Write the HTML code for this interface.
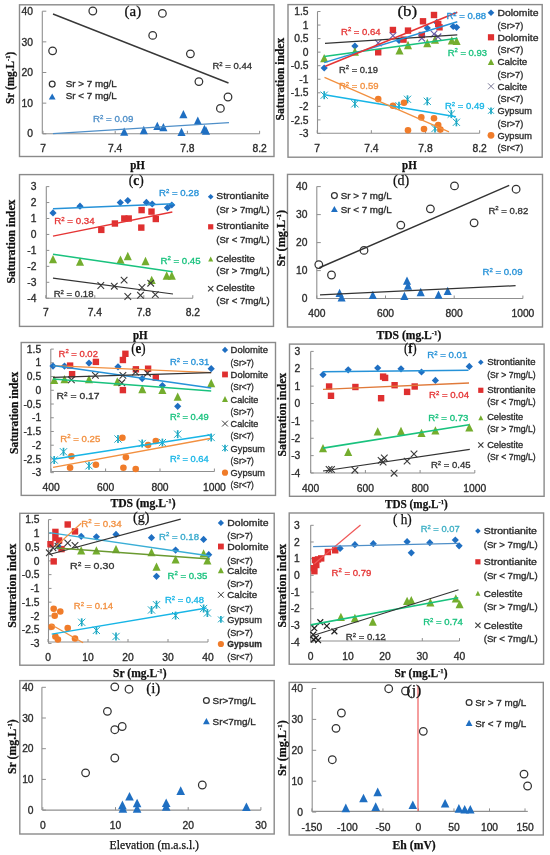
<!DOCTYPE html>
<html><head><meta charset="utf-8"><title>Figure</title>
<style>html,body{margin:0;padding:0;background:#fff;}svg{display:block;}</style></head>
<body><svg width="550" height="855" viewBox="0 0 550 855">
<rect width="550" height="855" fill="#fff"/>
<rect x="19.5" y="4.8" width="254.5" height="151.7" fill="none" stroke="#8a8a8a" stroke-width="1.4"/>
<line x1="42.3" y1="11.2" x2="42.3" y2="133.8" stroke="#8f8f8f" stroke-width="1.1"/>
<line x1="42.3" y1="11.2" x2="46.3" y2="11.2" stroke="#8f8f8f" stroke-width="1"/>
<line x1="42.3" y1="41.85" x2="46.3" y2="41.85" stroke="#8f8f8f" stroke-width="1"/>
<line x1="42.3" y1="72.5" x2="46.3" y2="72.5" stroke="#8f8f8f" stroke-width="1"/>
<line x1="42.3" y1="103.15" x2="46.3" y2="103.15" stroke="#8f8f8f" stroke-width="1"/>
<line x1="42.3" y1="133.8" x2="46.3" y2="133.8" stroke="#8f8f8f" stroke-width="1"/>
<line x1="43" y1="133.8" x2="259.6" y2="133.8" stroke="#8f8f8f" stroke-width="1.1"/>
<line x1="43" y1="133.8" x2="43" y2="130.8" stroke="#8f8f8f" stroke-width="1"/>
<line x1="115.2" y1="133.8" x2="115.2" y2="130.8" stroke="#8f8f8f" stroke-width="1"/>
<line x1="187.4" y1="133.8" x2="187.4" y2="130.8" stroke="#8f8f8f" stroke-width="1"/>
<line x1="259.6" y1="133.8" x2="259.6" y2="130.8" stroke="#8f8f8f" stroke-width="1"/>
<text x="33" y="14.86" font-size="10.3" font-family="'Liberation Sans', Arial, sans-serif" fill="#2b2b2b" text-anchor="end" stroke="#2b2b2b" stroke-width="0.33">40</text>
<text x="33" y="45.51" font-size="10.3" font-family="'Liberation Sans', Arial, sans-serif" fill="#2b2b2b" text-anchor="end" stroke="#2b2b2b" stroke-width="0.33">30</text>
<text x="33" y="76.16" font-size="10.3" font-family="'Liberation Sans', Arial, sans-serif" fill="#2b2b2b" text-anchor="end" stroke="#2b2b2b" stroke-width="0.33">20</text>
<text x="33" y="106.81" font-size="10.3" font-family="'Liberation Sans', Arial, sans-serif" fill="#2b2b2b" text-anchor="end" stroke="#2b2b2b" stroke-width="0.33">10</text>
<text x="33" y="137.46" font-size="10.3" font-family="'Liberation Sans', Arial, sans-serif" fill="#2b2b2b" text-anchor="end" stroke="#2b2b2b" stroke-width="0.33">0</text>
<text x="43" y="152.46" font-size="10.3" font-family="'Liberation Sans', Arial, sans-serif" fill="#2b2b2b" text-anchor="middle" stroke="#2b2b2b" stroke-width="0.33">7</text>
<text x="115.2" y="152.46" font-size="10.3" font-family="'Liberation Sans', Arial, sans-serif" fill="#2b2b2b" text-anchor="middle" stroke="#2b2b2b" stroke-width="0.33">7.4</text>
<text x="187.4" y="152.46" font-size="10.3" font-family="'Liberation Sans', Arial, sans-serif" fill="#2b2b2b" text-anchor="middle" stroke="#2b2b2b" stroke-width="0.33">7.8</text>
<text x="259.6" y="152.46" font-size="10.3" font-family="'Liberation Sans', Arial, sans-serif" fill="#2b2b2b" text-anchor="middle" stroke="#2b2b2b" stroke-width="0.33">8.2</text>
<circle cx="52.6" cy="50.8" r="3.8" fill="#fff" stroke="#333" stroke-width="1.25"/>
<circle cx="92.8" cy="11" r="3.8" fill="#fff" stroke="#333" stroke-width="1.25"/>
<circle cx="162.4" cy="13.4" r="3.8" fill="#fff" stroke="#333" stroke-width="1.25"/>
<circle cx="152.7" cy="35.4" r="3.8" fill="#fff" stroke="#333" stroke-width="1.25"/>
<circle cx="190.4" cy="53.8" r="3.8" fill="#fff" stroke="#333" stroke-width="1.25"/>
<circle cx="198.9" cy="81.6" r="3.8" fill="#fff" stroke="#333" stroke-width="1.25"/>
<circle cx="228" cy="97" r="3.8" fill="#fff" stroke="#333" stroke-width="1.25"/>
<circle cx="220.4" cy="108.4" r="3.8" fill="#fff" stroke="#333" stroke-width="1.25"/>
<path d="M124.2 127.43L128.25 135.77L120.15 135.77Z" fill="#1f6fc2"/>
<path d="M143.8 125.83L147.85 134.17L139.75 134.17Z" fill="#1f6fc2"/>
<path d="M157.3 121.73L161.35 130.07L153.25 130.07Z" fill="#1f6fc2"/>
<path d="M163.4 123.03L167.45 131.37L159.35 131.37Z" fill="#1f6fc2"/>
<path d="M183.4 110.03L187.45 118.37L179.35 118.37Z" fill="#1f6fc2"/>
<path d="M181.5 127.63L185.55 135.97L177.45 135.97Z" fill="#1f6fc2"/>
<path d="M197.8 116.43L201.85 124.77L193.75 124.77Z" fill="#1f6fc2"/>
<path d="M204.4 124.83L208.45 133.17L200.35 133.17Z" fill="#1f6fc2"/>
<path d="M206 126.33L210.05 134.67L201.95 134.67Z" fill="#1f6fc2"/>
<line x1="53" y1="14" x2="228.5" y2="83" stroke="#383838" stroke-width="1.35"/>
<line x1="53" y1="133.6" x2="229" y2="122.6" stroke="#4f8fc8" stroke-width="1.2"/>
<circle cx="52.2" cy="84.1" r="2.9" fill="#fff" stroke="#333" stroke-width="1.25"/>
<text x="65.8" y="86.78" font-size="9.8" font-family="'Liberation Sans', Arial, sans-serif" fill="#2b2b2b" text-anchor="start" textLength="51" lengthAdjust="spacingAndGlyphs" stroke="#2b2b2b" stroke-width="0.33">Sr &gt; 7 mg/L</text>
<path d="M52.2 93.4L55.6 99.6L48.8 99.6Z" fill="#1f6fc2"/>
<text x="65.8" y="99.18" font-size="9.8" font-family="'Liberation Sans', Arial, sans-serif" fill="#2b2b2b" text-anchor="start" textLength="51" lengthAdjust="spacingAndGlyphs" stroke="#2b2b2b" stroke-width="0.33">Sr &lt; 7 mg/L</text>
<text x="212.5" y="69.06" font-size="9.6" font-family="'Liberation Sans', Arial, sans-serif" fill="#333" text-anchor="start" textLength="39.5" lengthAdjust="spacingAndGlyphs" stroke="#333" stroke-width="0.33">R<tspan font-size="6" dy="-3.4">2</tspan><tspan dy="3.4"> = 0.44</tspan></text>
<text x="93" y="122.16" font-size="9.6" font-family="'Liberation Sans', Arial, sans-serif" fill="#4f8fc8" text-anchor="start" textLength="40.3" lengthAdjust="spacingAndGlyphs" stroke="#4f8fc8" stroke-width="0.33">R<tspan font-size="6" dy="-3.4">2</tspan><tspan dy="3.4"> = 0.09</tspan></text>
<text x="124.6" y="16.2" font-size="15" font-family="'Liberation Serif', 'Times New Roman', serif" fill="#111" text-anchor="start" textLength="16.6" lengthAdjust="spacingAndGlyphs" stroke="#111" stroke-width="0.25">(a)</text>
<text x="130.2" y="169" font-size="12" font-family="'Liberation Serif', 'Times New Roman', serif" fill="#111" text-anchor="start" font-weight="bold" textLength="14.7" lengthAdjust="spacingAndGlyphs" stroke="#111" stroke-width="0.25">pH</text>
<text transform="translate(14.4 77.85) rotate(-90)" font-size="12" font-family="'Liberation Serif', 'Times New Roman', serif" font-weight="bold" fill="#111" stroke="#111" stroke-width="0.25" text-anchor="middle" textLength="52.1" lengthAdjust="spacingAndGlyphs">Sr (mg.L<tspan font-size="7" dy="-4">-1</tspan><tspan dy="4">)</tspan></text>
<rect x="288" y="4.6" width="254.2" height="152.6" fill="none" stroke="#8a8a8a" stroke-width="1.4"/>
<line x1="317.5" y1="11.5" x2="317.5" y2="133.45" stroke="#8f8f8f" stroke-width="1.1"/>
<line x1="317.5" y1="11.5" x2="320.5" y2="11.5" stroke="#8f8f8f" stroke-width="1"/>
<line x1="317.5" y1="25.05" x2="320.5" y2="25.05" stroke="#8f8f8f" stroke-width="1"/>
<line x1="317.5" y1="38.6" x2="320.5" y2="38.6" stroke="#8f8f8f" stroke-width="1"/>
<line x1="317.5" y1="52.15" x2="320.5" y2="52.15" stroke="#8f8f8f" stroke-width="1"/>
<line x1="317.5" y1="65.7" x2="320.5" y2="65.7" stroke="#8f8f8f" stroke-width="1"/>
<line x1="317.5" y1="79.25" x2="320.5" y2="79.25" stroke="#8f8f8f" stroke-width="1"/>
<line x1="317.5" y1="92.8" x2="320.5" y2="92.8" stroke="#8f8f8f" stroke-width="1"/>
<line x1="317.5" y1="106.35" x2="320.5" y2="106.35" stroke="#8f8f8f" stroke-width="1"/>
<line x1="317.5" y1="119.9" x2="320.5" y2="119.9" stroke="#8f8f8f" stroke-width="1"/>
<line x1="317.5" y1="133.45" x2="320.5" y2="133.45" stroke="#8f8f8f" stroke-width="1"/>
<line x1="317.2" y1="133.2" x2="479.65" y2="133.2" stroke="#8f8f8f" stroke-width="1.1"/>
<line x1="317.2" y1="133.2" x2="317.2" y2="130.2" stroke="#8f8f8f" stroke-width="1"/>
<line x1="371.35" y1="133.2" x2="371.35" y2="130.2" stroke="#8f8f8f" stroke-width="1"/>
<line x1="425.5" y1="133.2" x2="425.5" y2="130.2" stroke="#8f8f8f" stroke-width="1"/>
<line x1="479.65" y1="133.2" x2="479.65" y2="130.2" stroke="#8f8f8f" stroke-width="1"/>
<text x="308.5" y="15.16" font-size="10.3" font-family="'Liberation Sans', Arial, sans-serif" fill="#2b2b2b" text-anchor="end" stroke="#2b2b2b" stroke-width="0.33">1.5</text>
<text x="308.5" y="28.71" font-size="10.3" font-family="'Liberation Sans', Arial, sans-serif" fill="#2b2b2b" text-anchor="end" stroke="#2b2b2b" stroke-width="0.33">1</text>
<text x="308.5" y="42.26" font-size="10.3" font-family="'Liberation Sans', Arial, sans-serif" fill="#2b2b2b" text-anchor="end" stroke="#2b2b2b" stroke-width="0.33">0.5</text>
<text x="308.5" y="55.81" font-size="10.3" font-family="'Liberation Sans', Arial, sans-serif" fill="#2b2b2b" text-anchor="end" stroke="#2b2b2b" stroke-width="0.33">0</text>
<text x="308.5" y="69.36" font-size="10.3" font-family="'Liberation Sans', Arial, sans-serif" fill="#2b2b2b" text-anchor="end" stroke="#2b2b2b" stroke-width="0.33">-0.5</text>
<text x="308.5" y="82.91" font-size="10.3" font-family="'Liberation Sans', Arial, sans-serif" fill="#2b2b2b" text-anchor="end" stroke="#2b2b2b" stroke-width="0.33">-1</text>
<text x="308.5" y="96.46" font-size="10.3" font-family="'Liberation Sans', Arial, sans-serif" fill="#2b2b2b" text-anchor="end" stroke="#2b2b2b" stroke-width="0.33">-1.5</text>
<text x="308.5" y="110.01" font-size="10.3" font-family="'Liberation Sans', Arial, sans-serif" fill="#2b2b2b" text-anchor="end" stroke="#2b2b2b" stroke-width="0.33">-2</text>
<text x="308.5" y="123.56" font-size="10.3" font-family="'Liberation Sans', Arial, sans-serif" fill="#2b2b2b" text-anchor="end" stroke="#2b2b2b" stroke-width="0.33">-2.5</text>
<text x="308.5" y="137.11" font-size="10.3" font-family="'Liberation Sans', Arial, sans-serif" fill="#2b2b2b" text-anchor="end" stroke="#2b2b2b" stroke-width="0.33">-3</text>
<text x="317.2" y="152.16" font-size="10.3" font-family="'Liberation Sans', Arial, sans-serif" fill="#2b2b2b" text-anchor="middle" stroke="#2b2b2b" stroke-width="0.33">7</text>
<text x="371.35" y="152.16" font-size="10.3" font-family="'Liberation Sans', Arial, sans-serif" fill="#2b2b2b" text-anchor="middle" stroke="#2b2b2b" stroke-width="0.33">7.4</text>
<text x="425.5" y="152.16" font-size="10.3" font-family="'Liberation Sans', Arial, sans-serif" fill="#2b2b2b" text-anchor="middle" stroke="#2b2b2b" stroke-width="0.33">7.8</text>
<text x="479.65" y="152.16" font-size="10.3" font-family="'Liberation Sans', Arial, sans-serif" fill="#2b2b2b" text-anchor="middle" stroke="#2b2b2b" stroke-width="0.33">8.2</text>
<path d="M324.2 64.4L327.8 68L324.2 71.6L320.6 68Z" fill="#1f6fc2"/>
<path d="M354.9 42.5L358.5 46.1L354.9 49.7L351.3 46.1Z" fill="#1f6fc2"/>
<path d="M399 36.9L402.6 40.5L399 44.1L395.4 40.5Z" fill="#1f6fc2"/>
<path d="M427.3 24.5L430.9 28.1L427.3 31.7L423.7 28.1Z" fill="#1f6fc2"/>
<path d="M436.8 18.8L440.4 22.4L436.8 26L433.2 22.4Z" fill="#1f6fc2"/>
<path d="M453.2 22.9L456.8 26.5L453.2 30.1L449.6 26.5Z" fill="#1f6fc2"/>
<path d="M456.6 23.7L460.2 27.3L456.6 30.9L453 27.3Z" fill="#1f6fc2"/>
<rect x="375" y="49.1" width="6.4" height="6.4" fill="#df3030"/>
<rect x="389.7" y="26.8" width="6.4" height="6.4" fill="#df3030"/>
<rect x="400.3" y="36.4" width="6.4" height="6.4" fill="#df3030"/>
<rect x="404.8" y="27.4" width="6.4" height="6.4" fill="#df3030"/>
<rect x="419.8" y="18.1" width="6.4" height="6.4" fill="#df3030"/>
<rect x="430.8" y="11.8" width="6.4" height="6.4" fill="#df3030"/>
<rect x="435" y="20.8" width="6.4" height="6.4" fill="#df3030"/>
<rect x="436.3" y="24.1" width="6.4" height="6.4" fill="#df3030"/>
<rect x="418.6" y="31.8" width="6.4" height="6.4" fill="#df3030"/>
<path d="M324.2 54.03L328.25 62.37L320.15 62.37Z" fill="#74ad2e"/>
<path d="M354.9 47.33L358.95 55.67L350.85 55.67Z" fill="#74ad2e"/>
<path d="M399.5 46.13L403.55 54.47L395.45 54.47Z" fill="#74ad2e"/>
<path d="M408 40.83L412.05 49.17L403.95 49.17Z" fill="#74ad2e"/>
<path d="M427.3 38.83L431.35 47.17L423.25 47.17Z" fill="#74ad2e"/>
<path d="M435 35.33L439.05 43.67L430.95 43.67Z" fill="#74ad2e"/>
<path d="M451.8 36.23L455.85 44.57L447.75 44.57Z" fill="#74ad2e"/>
<path d="M456.6 36.73L460.65 45.07L452.55 45.07Z" fill="#74ad2e"/>
<path d="M374.9 39.7L381.5 46.3M381.5 39.7L374.9 46.3" stroke="#6a5ca8" stroke-width="1.1" fill="none"/>
<path d="M389.7 32.3L396.3 38.9M396.3 32.3L389.7 38.9" stroke="#6a5ca8" stroke-width="1.1" fill="none"/>
<path d="M430.7 30.7L437.3 37.3M437.3 30.7L430.7 37.3" stroke="#6a5ca8" stroke-width="1.1" fill="none"/>
<path d="M434.7 33.5L441.3 40.1M441.3 33.5L434.7 40.1" stroke="#6a5ca8" stroke-width="1.1" fill="none"/>
<path d="M418.5 34.9L425.1 41.5M425.1 34.9L418.5 41.5" stroke="#6a5ca8" stroke-width="1.1" fill="none"/>
<path d="M320.6 91.6L327.8 98.8M327.8 91.6L320.6 98.8" stroke="#1fa9c4" stroke-width="1.0" fill="none"/><path d="M324.2 91.2L324.2 99.2" stroke="#1fa9c4" stroke-width="1.7"/>
<path d="M351.3 100.2L358.5 107.4M358.5 100.2L351.3 107.4" stroke="#1fa9c4" stroke-width="1.0" fill="none"/><path d="M354.9 99.8L354.9 107.8" stroke="#1fa9c4" stroke-width="1.7"/>
<path d="M395.4 102.2L402.6 109.4M402.6 102.2L395.4 109.4" stroke="#1fa9c4" stroke-width="1.0" fill="none"/><path d="M399 101.8L399 109.8" stroke="#1fa9c4" stroke-width="1.7"/>
<path d="M403.9 95.7L411.1 102.9M411.1 95.7L403.9 102.9" stroke="#1fa9c4" stroke-width="1.0" fill="none"/><path d="M407.5 95.3L407.5 103.3" stroke="#1fa9c4" stroke-width="1.7"/>
<path d="M423.7 97.7L430.9 104.9M430.9 97.7L423.7 104.9" stroke="#1fa9c4" stroke-width="1.0" fill="none"/><path d="M427.3 97.3L427.3 105.3" stroke="#1fa9c4" stroke-width="1.7"/>
<path d="M447.7 110.5L454.9 117.7M454.9 110.5L447.7 117.7" stroke="#1fa9c4" stroke-width="1.0" fill="none"/><path d="M451.3 110.1L451.3 118.1" stroke="#1fa9c4" stroke-width="1.7"/>
<path d="M452.8 118.7L460 125.9M460 118.7L452.8 125.9" stroke="#1fa9c4" stroke-width="1.0" fill="none"/><path d="M456.4 118.3L456.4 126.3" stroke="#1fa9c4" stroke-width="1.7"/>
<path d="M431.4 124.9L438.6 132.1M438.6 124.9L431.4 132.1" stroke="#1fa9c4" stroke-width="1.0" fill="none"/><path d="M435 124.5L435 132.5" stroke="#1fa9c4" stroke-width="1.7"/>
<circle cx="378.2" cy="99.1" r="3.3" fill="#f07c2a"/>
<circle cx="393" cy="105.8" r="3.3" fill="#f07c2a"/>
<circle cx="404" cy="102.8" r="3.3" fill="#f07c2a"/>
<circle cx="408" cy="130.2" r="3.3" fill="#f07c2a"/>
<circle cx="421.3" cy="117.4" r="3.3" fill="#f07c2a"/>
<circle cx="424" cy="129" r="3.3" fill="#f07c2a"/>
<circle cx="434" cy="118.2" r="3.3" fill="#f07c2a"/>
<circle cx="438.2" cy="125" r="3.3" fill="#f07c2a"/>
<circle cx="440.4" cy="129.6" r="3.3" fill="#f07c2a"/>
<line x1="324.5" y1="94.7" x2="456" y2="116.8" stroke="#17b5e6" stroke-width="1.6"/>
<line x1="324.5" y1="77.3" x2="449" y2="131.8" stroke="#f29040" stroke-width="1.3"/>
<line x1="325" y1="43.4" x2="457.3" y2="34.9" stroke="#333333" stroke-width="1.2"/>
<line x1="324.2" y1="56.5" x2="457.3" y2="38.2" stroke="#19c27e" stroke-width="1.6"/>
<line x1="324.2" y1="62.6" x2="457.3" y2="21.8" stroke="#2692d8" stroke-width="1.5"/>
<line x1="325.4" y1="66.3" x2="457.3" y2="12.3" stroke="#e53535" stroke-width="1.6"/>
<text x="341" y="34.66" font-size="9.6" font-family="'Liberation Sans', Arial, sans-serif" fill="#e53535" text-anchor="start" textLength="39.6" lengthAdjust="spacingAndGlyphs" stroke="#e53535" stroke-width="0.33">R<tspan font-size="6" dy="-3.4">2</tspan><tspan dy="3.4"> = 0.64</tspan></text>
<text x="339" y="72.66" font-size="9.6" font-family="'Liberation Sans', Arial, sans-serif" fill="#333" text-anchor="start" textLength="39" lengthAdjust="spacingAndGlyphs" stroke="#333" stroke-width="0.33">R<tspan font-size="6" dy="-3.4">2</tspan><tspan dy="3.4"> = 0.19</tspan></text>
<text x="339" y="89.46" font-size="9.6" font-family="'Liberation Sans', Arial, sans-serif" fill="#f29040" text-anchor="start" textLength="39.5" lengthAdjust="spacingAndGlyphs" stroke="#f29040" stroke-width="0.33">R<tspan font-size="6" dy="-3.4">2</tspan><tspan dy="3.4"> = 0.59</tspan></text>
<text x="446.4" y="18.96" font-size="9.6" font-family="'Liberation Sans', Arial, sans-serif" fill="#2692d8" text-anchor="start" textLength="39.6" lengthAdjust="spacingAndGlyphs" stroke="#2692d8" stroke-width="0.33">R<tspan font-size="6" dy="-3.4">2</tspan><tspan dy="3.4"> = 0.88</tspan></text>
<text x="447.7" y="55.86" font-size="9.6" font-family="'Liberation Sans', Arial, sans-serif" fill="#19c27e" text-anchor="start" textLength="39.3" lengthAdjust="spacingAndGlyphs" stroke="#19c27e" stroke-width="0.33">R<tspan font-size="6" dy="-3.4">2</tspan><tspan dy="3.4"> = 0.93</tspan></text>
<text x="445" y="109.36" font-size="9.6" font-family="'Liberation Sans', Arial, sans-serif" fill="#17b5e6" text-anchor="start" textLength="39.5" lengthAdjust="spacingAndGlyphs" stroke="#17b5e6" stroke-width="0.33">R<tspan font-size="6" dy="-3.4">2</tspan><tspan dy="3.4"> = 0.49</tspan></text>
<path d="M491 9.5L494.3 12.8L491 16.1L487.7 12.8Z" fill="#1f6fc2"/>
<text x="497.5" y="16.28" font-size="9.8" font-family="'Liberation Sans', Arial, sans-serif" fill="#2b2b2b" text-anchor="start" textLength="41" lengthAdjust="spacingAndGlyphs" stroke="#2b2b2b" stroke-width="0.33">Dolomite</text>
<text x="497.5" y="28.53" font-size="9.8" font-family="'Liberation Sans', Arial, sans-serif" fill="#2b2b2b" text-anchor="start" textLength="25.7" lengthAdjust="spacingAndGlyphs" stroke="#2b2b2b" stroke-width="0.33">(Sr&gt;7)</text>
<rect x="487.9" y="34.2" width="6.2" height="6.2" fill="#df3030"/>
<text x="497.5" y="40.78" font-size="9.8" font-family="'Liberation Sans', Arial, sans-serif" fill="#2b2b2b" text-anchor="start" textLength="41" lengthAdjust="spacingAndGlyphs" stroke="#2b2b2b" stroke-width="0.33">Dolomite</text>
<text x="497.5" y="53.03" font-size="9.8" font-family="'Liberation Sans', Arial, sans-serif" fill="#2b2b2b" text-anchor="start" textLength="25.7" lengthAdjust="spacingAndGlyphs" stroke="#2b2b2b" stroke-width="0.33">(Sr&lt;7)</text>
<path d="M491 58.7L494.2 64.9L487.8 64.9Z" fill="#74ad2e"/>
<text x="497.5" y="65.28" font-size="9.8" font-family="'Liberation Sans', Arial, sans-serif" fill="#2b2b2b" text-anchor="start" textLength="29.8" lengthAdjust="spacingAndGlyphs" stroke="#2b2b2b" stroke-width="0.33">Calcite</text>
<text x="497.5" y="77.53" font-size="9.8" font-family="'Liberation Sans', Arial, sans-serif" fill="#2b2b2b" text-anchor="start" textLength="25.7" lengthAdjust="spacingAndGlyphs" stroke="#2b2b2b" stroke-width="0.33">(Sr&gt;7)</text>
<path d="M488 83.3L494 89.3M494 83.3L488 89.3" stroke="#7a7896" stroke-width="1" fill="none"/>
<text x="497.5" y="89.78" font-size="9.8" font-family="'Liberation Sans', Arial, sans-serif" fill="#2b2b2b" text-anchor="start" textLength="29.8" lengthAdjust="spacingAndGlyphs" stroke="#2b2b2b" stroke-width="0.33">Calcite</text>
<text x="497.5" y="102.03" font-size="9.8" font-family="'Liberation Sans', Arial, sans-serif" fill="#2b2b2b" text-anchor="start" textLength="25.7" lengthAdjust="spacingAndGlyphs" stroke="#2b2b2b" stroke-width="0.33">(Sr&lt;7)</text>
<path d="M488 107.8L494 113.8M494 107.8L488 113.8" stroke="#1fa9c4" stroke-width="1" fill="none"/><path d="M491 107.4L491 114.2" stroke="#1fa9c4" stroke-width="1.7"/>
<text x="497.5" y="114.28" font-size="9.8" font-family="'Liberation Sans', Arial, sans-serif" fill="#2b2b2b" text-anchor="start" textLength="34.5" lengthAdjust="spacingAndGlyphs" stroke="#2b2b2b" stroke-width="0.33">Gypsum</text>
<text x="497.5" y="126.53" font-size="9.8" font-family="'Liberation Sans', Arial, sans-serif" fill="#2b2b2b" text-anchor="start" textLength="25.7" lengthAdjust="spacingAndGlyphs" stroke="#2b2b2b" stroke-width="0.33">(Sr&gt;7)</text>
<circle cx="491" cy="135.3" r="3.4" fill="#f07c2a"/>
<text x="497.5" y="138.78" font-size="9.8" font-family="'Liberation Sans', Arial, sans-serif" fill="#2b2b2b" text-anchor="start" textLength="34.5" lengthAdjust="spacingAndGlyphs" stroke="#2b2b2b" stroke-width="0.33">Gypsum</text>
<text x="497.5" y="151.03" font-size="9.8" font-family="'Liberation Sans', Arial, sans-serif" fill="#2b2b2b" text-anchor="start" textLength="25.7" lengthAdjust="spacingAndGlyphs" stroke="#2b2b2b" stroke-width="0.33">(Sr&lt;7)</text>
<text x="397.4" y="16" font-size="15" font-family="'Liberation Serif', 'Times New Roman', serif" fill="#111" text-anchor="start" textLength="19.8" lengthAdjust="spacingAndGlyphs" stroke="#111" stroke-width="0.25">(b)</text>
<text x="402.1" y="169" font-size="12" font-family="'Liberation Serif', 'Times New Roman', serif" fill="#111" text-anchor="start" font-weight="bold" textLength="14.7" lengthAdjust="spacingAndGlyphs" stroke="#111" stroke-width="0.25">pH</text>
<text transform="translate(284.4 79.05) rotate(-90)" font-size="12" font-family="'Liberation Serif', 'Times New Roman', serif" font-weight="bold" fill="#111" stroke="#111" stroke-width="0.25" text-anchor="middle" textLength="82.7" lengthAdjust="spacingAndGlyphs">Saturation index</text>
<rect x="19.5" y="174.6" width="254" height="151.8" fill="none" stroke="#8a8a8a" stroke-width="1.4"/>
<line x1="46.3" y1="186.6" x2="46.3" y2="298.25" stroke="#8f8f8f" stroke-width="1.1"/>
<line x1="46.3" y1="186.6" x2="49.3" y2="186.6" stroke="#8f8f8f" stroke-width="1"/>
<line x1="46.3" y1="202.55" x2="49.3" y2="202.55" stroke="#8f8f8f" stroke-width="1"/>
<line x1="46.3" y1="218.5" x2="49.3" y2="218.5" stroke="#8f8f8f" stroke-width="1"/>
<line x1="46.3" y1="234.45" x2="49.3" y2="234.45" stroke="#8f8f8f" stroke-width="1"/>
<line x1="46.3" y1="250.4" x2="49.3" y2="250.4" stroke="#8f8f8f" stroke-width="1"/>
<line x1="46.3" y1="266.35" x2="49.3" y2="266.35" stroke="#8f8f8f" stroke-width="1"/>
<line x1="46.3" y1="282.3" x2="49.3" y2="282.3" stroke="#8f8f8f" stroke-width="1"/>
<line x1="46.3" y1="298.25" x2="49.3" y2="298.25" stroke="#8f8f8f" stroke-width="1"/>
<line x1="45.8" y1="298.2" x2="192.8" y2="298.2" stroke="#8f8f8f" stroke-width="1.1"/>
<line x1="45.8" y1="298.2" x2="45.8" y2="295.2" stroke="#8f8f8f" stroke-width="1"/>
<line x1="94.8" y1="298.2" x2="94.8" y2="295.2" stroke="#8f8f8f" stroke-width="1"/>
<line x1="143.8" y1="298.2" x2="143.8" y2="295.2" stroke="#8f8f8f" stroke-width="1"/>
<line x1="192.8" y1="298.2" x2="192.8" y2="295.2" stroke="#8f8f8f" stroke-width="1"/>
<text x="36.5" y="190.26" font-size="10.3" font-family="'Liberation Sans', Arial, sans-serif" fill="#2b2b2b" text-anchor="end" stroke="#2b2b2b" stroke-width="0.33">3</text>
<text x="36.5" y="206.21" font-size="10.3" font-family="'Liberation Sans', Arial, sans-serif" fill="#2b2b2b" text-anchor="end" stroke="#2b2b2b" stroke-width="0.33">2</text>
<text x="36.5" y="222.16" font-size="10.3" font-family="'Liberation Sans', Arial, sans-serif" fill="#2b2b2b" text-anchor="end" stroke="#2b2b2b" stroke-width="0.33">1</text>
<text x="36.5" y="238.11" font-size="10.3" font-family="'Liberation Sans', Arial, sans-serif" fill="#2b2b2b" text-anchor="end" stroke="#2b2b2b" stroke-width="0.33">0</text>
<text x="36.5" y="254.06" font-size="10.3" font-family="'Liberation Sans', Arial, sans-serif" fill="#2b2b2b" text-anchor="end" stroke="#2b2b2b" stroke-width="0.33">-1</text>
<text x="36.5" y="270.01" font-size="10.3" font-family="'Liberation Sans', Arial, sans-serif" fill="#2b2b2b" text-anchor="end" stroke="#2b2b2b" stroke-width="0.33">-2</text>
<text x="36.5" y="285.96" font-size="10.3" font-family="'Liberation Sans', Arial, sans-serif" fill="#2b2b2b" text-anchor="end" stroke="#2b2b2b" stroke-width="0.33">-3</text>
<text x="36.5" y="301.91" font-size="10.3" font-family="'Liberation Sans', Arial, sans-serif" fill="#2b2b2b" text-anchor="end" stroke="#2b2b2b" stroke-width="0.33">-4</text>
<text x="45.8" y="316.16" font-size="10.3" font-family="'Liberation Sans', Arial, sans-serif" fill="#2b2b2b" text-anchor="middle" stroke="#2b2b2b" stroke-width="0.33">7</text>
<text x="94.8" y="316.16" font-size="10.3" font-family="'Liberation Sans', Arial, sans-serif" fill="#2b2b2b" text-anchor="middle" stroke="#2b2b2b" stroke-width="0.33">7.4</text>
<text x="143.8" y="316.16" font-size="10.3" font-family="'Liberation Sans', Arial, sans-serif" fill="#2b2b2b" text-anchor="middle" stroke="#2b2b2b" stroke-width="0.33">7.8</text>
<text x="192.8" y="316.16" font-size="10.3" font-family="'Liberation Sans', Arial, sans-serif" fill="#2b2b2b" text-anchor="middle" stroke="#2b2b2b" stroke-width="0.33">8.2</text>
<path d="M53 209.3L56.6 212.9L53 216.5L49.4 212.9Z" fill="#1f6fc2"/>
<path d="M80 202.6L83.6 206.2L80 209.8L76.4 206.2Z" fill="#1f6fc2"/>
<path d="M120.3 199L123.9 202.6L120.3 206.2L116.7 202.6Z" fill="#1f6fc2"/>
<path d="M127.8 197L131.4 200.6L127.8 204.2L124.2 200.6Z" fill="#1f6fc2"/>
<path d="M146.4 198.8L150 202.4L146.4 206L142.8 202.4Z" fill="#1f6fc2"/>
<path d="M152.2 200.4L155.8 204L152.2 207.6L148.6 204Z" fill="#1f6fc2"/>
<path d="M167.5 204.1L171.1 207.7L167.5 211.3L163.9 207.7Z" fill="#1f6fc2"/>
<path d="M171.8 201.4L175.4 205L171.8 208.6L168.2 205Z" fill="#1f6fc2"/>
<rect x="98.1" y="226.7" width="6.4" height="6.4" fill="#df3030"/>
<rect x="111.7" y="220.3" width="6.4" height="6.4" fill="#df3030"/>
<rect x="121.1" y="215.3" width="6.4" height="6.4" fill="#df3030"/>
<rect x="125.5" y="215.3" width="6.4" height="6.4" fill="#df3030"/>
<rect x="138.4" y="206.9" width="6.4" height="6.4" fill="#df3030"/>
<rect x="138.1" y="224.4" width="6.4" height="6.4" fill="#df3030"/>
<rect x="148.3" y="208.4" width="6.4" height="6.4" fill="#df3030"/>
<rect x="152.6" y="215.8" width="6.4" height="6.4" fill="#df3030"/>
<path d="M53 255.03L57.05 263.37L48.95 263.37Z" fill="#74ad2e"/>
<path d="M80 257.53L84.05 265.87L75.95 265.87Z" fill="#74ad2e"/>
<path d="M120.5 255.53L124.55 263.87L116.45 263.87Z" fill="#74ad2e"/>
<path d="M127.8 251.83L131.85 260.17L123.75 260.17Z" fill="#74ad2e"/>
<path d="M145.5 256.83L149.55 265.17L141.45 265.17Z" fill="#74ad2e"/>
<path d="M151.7 275.63L155.75 283.97L147.65 283.97Z" fill="#74ad2e"/>
<path d="M166.7 271.33L170.75 279.67L162.65 279.67Z" fill="#74ad2e"/>
<path d="M171.8 271.33L175.85 279.67L167.75 279.67Z" fill="#74ad2e"/>
<path d="M97.5 282.2L104.1 288.8M104.1 282.2L97.5 288.8" stroke="#3a3a3a" stroke-width="1.1" fill="none"/>
<path d="M111 282.9L117.6 289.5M117.6 282.9L111 289.5" stroke="#3a3a3a" stroke-width="1.1" fill="none"/>
<path d="M120.8 276.8L127.4 283.4M127.4 276.8L120.8 283.4" stroke="#3a3a3a" stroke-width="1.1" fill="none"/>
<path d="M124.5 293.2L131.1 299.8M131.1 293.2L124.5 299.8" stroke="#3a3a3a" stroke-width="1.1" fill="none"/>
<path d="M137.2 292L143.8 298.6M143.8 292L137.2 298.6" stroke="#3a3a3a" stroke-width="1.1" fill="none"/>
<path d="M138.7 284.2L145.3 290.8M145.3 284.2L138.7 290.8" stroke="#3a3a3a" stroke-width="1.1" fill="none"/>
<path d="M147.4 279.9L154 286.5M154 279.9L147.4 286.5" stroke="#3a3a3a" stroke-width="1.1" fill="none"/>
<path d="M152 291.3L158.6 297.9M158.6 291.3L152 297.9" stroke="#3a3a3a" stroke-width="1.1" fill="none"/>
<line x1="53" y1="208.7" x2="173.8" y2="203.7" stroke="#2692d8" stroke-width="1.6"/>
<line x1="53" y1="236.2" x2="172.3" y2="212" stroke="#e53535" stroke-width="1.3"/>
<line x1="53" y1="254.3" x2="172.6" y2="271.7" stroke="#19c27e" stroke-width="1.6"/>
<line x1="53" y1="278.1" x2="173" y2="294" stroke="#333333" stroke-width="1.2"/>
<text x="159" y="196.46" font-size="9.6" font-family="'Liberation Sans', Arial, sans-serif" fill="#2692d8" text-anchor="start" textLength="40" lengthAdjust="spacingAndGlyphs" stroke="#2692d8" stroke-width="0.33">R<tspan font-size="6" dy="-3.4">2</tspan><tspan dy="3.4"> = 0.28</tspan></text>
<text x="54.2" y="224.46" font-size="9.6" font-family="'Liberation Sans', Arial, sans-serif" fill="#e53535" text-anchor="start" textLength="40.5" lengthAdjust="spacingAndGlyphs" stroke="#e53535" stroke-width="0.33">R<tspan font-size="6" dy="-3.4">2</tspan><tspan dy="3.4"> = 0.34</tspan></text>
<text x="160.4" y="263.76" font-size="9.6" font-family="'Liberation Sans', Arial, sans-serif" fill="#19c27e" text-anchor="start" textLength="40.2" lengthAdjust="spacingAndGlyphs" stroke="#19c27e" stroke-width="0.33">R<tspan font-size="6" dy="-3.4">2</tspan><tspan dy="3.4"> = 0.45</tspan></text>
<text x="53.7" y="297.46" font-size="9.6" font-family="'Liberation Sans', Arial, sans-serif" fill="#333" text-anchor="start" textLength="39.8" lengthAdjust="spacingAndGlyphs" stroke="#333" stroke-width="0.33">R<tspan font-size="6" dy="-3.4">2</tspan><tspan dy="3.4"> = 0.18</tspan></text>
<path d="M210.7 194L213.5 196.8L210.7 199.6L207.9 196.8Z" fill="#1f6fc2"/>
<text x="216.3" y="199.48" font-size="9.8" font-family="'Liberation Sans', Arial, sans-serif" fill="#2b2b2b" text-anchor="start" textLength="52.6" lengthAdjust="spacingAndGlyphs" stroke="#2b2b2b" stroke-width="0.33">Strontianite</text>
<text x="216.3" y="212.98" font-size="9.8" font-family="'Liberation Sans', Arial, sans-serif" fill="#2b2b2b" text-anchor="start" textLength="53.3" lengthAdjust="spacingAndGlyphs" stroke="#2b2b2b" stroke-width="0.33">(Sr &gt; 7mg/L)</text>
<rect x="208.1" y="224.2" width="5.2" height="5.2" fill="#df3030"/>
<text x="216.3" y="229.48" font-size="9.8" font-family="'Liberation Sans', Arial, sans-serif" fill="#2b2b2b" text-anchor="start" textLength="52.6" lengthAdjust="spacingAndGlyphs" stroke="#2b2b2b" stroke-width="0.33">Strontianite</text>
<text x="216.3" y="242.98" font-size="9.8" font-family="'Liberation Sans', Arial, sans-serif" fill="#2b2b2b" text-anchor="start" textLength="53.3" lengthAdjust="spacingAndGlyphs" stroke="#2b2b2b" stroke-width="0.33">(Sr &lt; 7mg/L)</text>
<path d="M210.7 256.5L213.2 261.5L208.2 261.5Z" fill="#74ad2e"/>
<text x="216.3" y="261.68" font-size="9.8" font-family="'Liberation Sans', Arial, sans-serif" fill="#2b2b2b" text-anchor="start" textLength="38.6" lengthAdjust="spacingAndGlyphs" stroke="#2b2b2b" stroke-width="0.33">Celestite</text>
<text x="216.3" y="274.38" font-size="9.8" font-family="'Liberation Sans', Arial, sans-serif" fill="#2b2b2b" text-anchor="start" textLength="53.3" lengthAdjust="spacingAndGlyphs" stroke="#2b2b2b" stroke-width="0.33">(Sr &gt; 7mg/L)</text>
<path d="M208.1 286.2L213.3 291.4M213.3 286.2L208.1 291.4" stroke="#3a3a3a" stroke-width="1.1" fill="none"/>
<text x="216.3" y="291.48" font-size="9.8" font-family="'Liberation Sans', Arial, sans-serif" fill="#2b2b2b" text-anchor="start" textLength="38.6" lengthAdjust="spacingAndGlyphs" stroke="#2b2b2b" stroke-width="0.33">Celestite</text>
<text x="216.3" y="304.18" font-size="9.8" font-family="'Liberation Sans', Arial, sans-serif" fill="#2b2b2b" text-anchor="start" textLength="53.3" lengthAdjust="spacingAndGlyphs" stroke="#2b2b2b" stroke-width="0.33">(Sr &lt; 7mg/L)</text>
<text x="128.7" y="184.8" font-size="15" font-family="'Liberation Serif', 'Times New Roman', serif" fill="#111" text-anchor="start" textLength="15" lengthAdjust="spacingAndGlyphs" stroke="#111" stroke-width="0.25">(<tspan font-weight="bold">c</tspan>)</text>
<text x="132.9" y="339" font-size="12" font-family="'Liberation Serif', 'Times New Roman', serif" fill="#111" text-anchor="start" font-weight="bold" textLength="14.7" lengthAdjust="spacingAndGlyphs" stroke="#111" stroke-width="0.25">pH</text>
<text transform="translate(15.4 241.5) rotate(-90)" font-size="12" font-family="'Liberation Serif', 'Times New Roman', serif" font-weight="bold" fill="#111" stroke="#111" stroke-width="0.25" text-anchor="middle" textLength="84" lengthAdjust="spacingAndGlyphs">Saturation index</text>
<rect x="287.5" y="174.4" width="255" height="152.6" fill="none" stroke="#8a8a8a" stroke-width="1.4"/>
<line x1="316.8" y1="186.6" x2="316.8" y2="298.6" stroke="#8f8f8f" stroke-width="1.1"/>
<line x1="316.8" y1="186.6" x2="320.8" y2="186.6" stroke="#8f8f8f" stroke-width="1"/>
<line x1="316.8" y1="214.6" x2="320.8" y2="214.6" stroke="#8f8f8f" stroke-width="1"/>
<line x1="316.8" y1="242.6" x2="320.8" y2="242.6" stroke="#8f8f8f" stroke-width="1"/>
<line x1="316.8" y1="270.6" x2="320.8" y2="270.6" stroke="#8f8f8f" stroke-width="1"/>
<line x1="316.8" y1="298.6" x2="320.8" y2="298.6" stroke="#8f8f8f" stroke-width="1"/>
<line x1="316.8" y1="298.5" x2="522.9" y2="298.5" stroke="#8f8f8f" stroke-width="1.1"/>
<line x1="316.8" y1="298.5" x2="316.8" y2="295.5" stroke="#8f8f8f" stroke-width="1"/>
<line x1="385.5" y1="298.5" x2="385.5" y2="295.5" stroke="#8f8f8f" stroke-width="1"/>
<line x1="454.2" y1="298.5" x2="454.2" y2="295.5" stroke="#8f8f8f" stroke-width="1"/>
<line x1="522.9" y1="298.5" x2="522.9" y2="295.5" stroke="#8f8f8f" stroke-width="1"/>
<text x="307.5" y="190.26" font-size="10.3" font-family="'Liberation Sans', Arial, sans-serif" fill="#2b2b2b" text-anchor="end" stroke="#2b2b2b" stroke-width="0.33">40</text>
<text x="307.5" y="218.26" font-size="10.3" font-family="'Liberation Sans', Arial, sans-serif" fill="#2b2b2b" text-anchor="end" stroke="#2b2b2b" stroke-width="0.33">30</text>
<text x="307.5" y="246.26" font-size="10.3" font-family="'Liberation Sans', Arial, sans-serif" fill="#2b2b2b" text-anchor="end" stroke="#2b2b2b" stroke-width="0.33">20</text>
<text x="307.5" y="274.26" font-size="10.3" font-family="'Liberation Sans', Arial, sans-serif" fill="#2b2b2b" text-anchor="end" stroke="#2b2b2b" stroke-width="0.33">10</text>
<text x="307.5" y="302.26" font-size="10.3" font-family="'Liberation Sans', Arial, sans-serif" fill="#2b2b2b" text-anchor="end" stroke="#2b2b2b" stroke-width="0.33">0</text>
<text x="316.8" y="316.86" font-size="10.3" font-family="'Liberation Sans', Arial, sans-serif" fill="#2b2b2b" text-anchor="middle" stroke="#2b2b2b" stroke-width="0.33">400</text>
<text x="385.5" y="316.86" font-size="10.3" font-family="'Liberation Sans', Arial, sans-serif" fill="#2b2b2b" text-anchor="middle" stroke="#2b2b2b" stroke-width="0.33">600</text>
<text x="454.2" y="316.86" font-size="10.3" font-family="'Liberation Sans', Arial, sans-serif" fill="#2b2b2b" text-anchor="middle" stroke="#2b2b2b" stroke-width="0.33">800</text>
<text x="522.9" y="316.86" font-size="10.3" font-family="'Liberation Sans', Arial, sans-serif" fill="#2b2b2b" text-anchor="middle" stroke="#2b2b2b" stroke-width="0.33">1000</text>
<circle cx="318.8" cy="264.6" r="3.8" fill="#fff" stroke="#333" stroke-width="1.25"/>
<circle cx="331.5" cy="275" r="3.8" fill="#fff" stroke="#333" stroke-width="1.25"/>
<circle cx="364" cy="250.4" r="3.8" fill="#fff" stroke="#333" stroke-width="1.25"/>
<circle cx="400.8" cy="225.1" r="3.8" fill="#fff" stroke="#333" stroke-width="1.25"/>
<circle cx="430.4" cy="208.8" r="3.8" fill="#fff" stroke="#333" stroke-width="1.25"/>
<circle cx="454.5" cy="185.9" r="3.8" fill="#fff" stroke="#333" stroke-width="1.25"/>
<circle cx="474.1" cy="222.8" r="3.8" fill="#fff" stroke="#333" stroke-width="1.25"/>
<circle cx="516.1" cy="189.2" r="3.8" fill="#fff" stroke="#333" stroke-width="1.25"/>
<path d="M339.6 288.73L343.65 297.07L335.55 297.07Z" fill="#1f6fc2"/>
<path d="M341.6 293.13L345.65 301.47L337.55 301.47Z" fill="#1f6fc2"/>
<path d="M372.8 290.63L376.85 298.97L368.75 298.97Z" fill="#1f6fc2"/>
<path d="M404.4 291.63L408.45 299.97L400.35 299.97Z" fill="#1f6fc2"/>
<path d="M407 276.43L411.05 284.77L402.95 284.77Z" fill="#1f6fc2"/>
<path d="M408 281.33L412.05 289.67L403.95 289.67Z" fill="#1f6fc2"/>
<path d="M420.7 287.83L424.75 296.17L416.65 296.17Z" fill="#1f6fc2"/>
<path d="M438.5 290.43L442.55 298.77L434.45 298.77Z" fill="#1f6fc2"/>
<path d="M447.7 286.63L451.75 294.97L443.65 294.97Z" fill="#1f6fc2"/>
<line x1="319.3" y1="267.8" x2="509.2" y2="185.4" stroke="#333333" stroke-width="1.5"/>
<line x1="320" y1="294.8" x2="515.6" y2="285.7" stroke="#333333" stroke-width="1.3"/>
<circle cx="334.4" cy="195.6" r="2.9" fill="#fff" stroke="#333" stroke-width="1.25"/>
<text x="340.7" y="199.38" font-size="9.8" font-family="'Liberation Sans', Arial, sans-serif" fill="#2b2b2b" text-anchor="start" textLength="51" lengthAdjust="spacingAndGlyphs" stroke="#2b2b2b" stroke-width="0.33">Sr &gt; 7 mg/L</text>
<path d="M334.4 205.9L337.8 212.1L331 212.1Z" fill="#1f6fc2"/>
<text x="340.7" y="212.78" font-size="9.8" font-family="'Liberation Sans', Arial, sans-serif" fill="#2b2b2b" text-anchor="start" textLength="51" lengthAdjust="spacingAndGlyphs" stroke="#2b2b2b" stroke-width="0.33">Sr &lt; 7 mg/L</text>
<text x="488.4" y="213.76" font-size="9.6" font-family="'Liberation Sans', Arial, sans-serif" fill="#333" text-anchor="start" textLength="39.9" lengthAdjust="spacingAndGlyphs" stroke="#333" stroke-width="0.33">R<tspan font-size="6" dy="-3.4">2</tspan><tspan dy="3.4"> = 0.82</tspan></text>
<text x="482.5" y="275.16" font-size="9.6" font-family="'Liberation Sans', Arial, sans-serif" fill="#2692d8" text-anchor="start" textLength="40" lengthAdjust="spacingAndGlyphs" stroke="#2692d8" stroke-width="0.33">R<tspan font-size="6" dy="-3.4">2</tspan><tspan dy="3.4"> = 0.09</tspan></text>
<text x="392.9" y="185.3" font-size="15" font-family="'Liberation Serif', 'Times New Roman', serif" fill="#111" text-anchor="start" textLength="16.4" lengthAdjust="spacingAndGlyphs" stroke="#111" stroke-width="0.25">(d)</text>
<text x="376.5" y="338.9" font-size="12" font-family="'Liberation Serif', 'Times New Roman', serif" fill="#111" text-anchor="start" font-weight="bold" textLength="64.8" lengthAdjust="spacingAndGlyphs" stroke="#111" stroke-width="0.25">TDS (mg.L<tspan font-size="7" dy="-4">-1</tspan><tspan dy="4">)</tspan></text>
<text transform="translate(285 238.15) rotate(-90)" font-size="12" font-family="'Liberation Serif', 'Times New Roman', serif" font-weight="bold" fill="#111" stroke="#111" stroke-width="0.25" text-anchor="middle" textLength="56.7" lengthAdjust="spacingAndGlyphs">Sr (mg.L<tspan font-size="7" dy="-4">-1</tspan><tspan dy="4">)</tspan></text>
<rect x="21.2" y="342.5" width="254.3" height="152.9" fill="none" stroke="#8a8a8a" stroke-width="1.4"/>
<line x1="50.8" y1="349.1" x2="50.8" y2="472.67" stroke="#8f8f8f" stroke-width="1.1"/>
<line x1="50.8" y1="349.1" x2="53.8" y2="349.1" stroke="#8f8f8f" stroke-width="1"/>
<line x1="50.8" y1="362.83" x2="53.8" y2="362.83" stroke="#8f8f8f" stroke-width="1"/>
<line x1="50.8" y1="376.56" x2="53.8" y2="376.56" stroke="#8f8f8f" stroke-width="1"/>
<line x1="50.8" y1="390.29" x2="53.8" y2="390.29" stroke="#8f8f8f" stroke-width="1"/>
<line x1="50.8" y1="404.02" x2="53.8" y2="404.02" stroke="#8f8f8f" stroke-width="1"/>
<line x1="50.8" y1="417.75" x2="53.8" y2="417.75" stroke="#8f8f8f" stroke-width="1"/>
<line x1="50.8" y1="431.48" x2="53.8" y2="431.48" stroke="#8f8f8f" stroke-width="1"/>
<line x1="50.8" y1="445.21" x2="53.8" y2="445.21" stroke="#8f8f8f" stroke-width="1"/>
<line x1="50.8" y1="458.94" x2="53.8" y2="458.94" stroke="#8f8f8f" stroke-width="1"/>
<line x1="50.8" y1="472.67" x2="53.8" y2="472.67" stroke="#8f8f8f" stroke-width="1"/>
<line x1="51.2" y1="471.5" x2="214.4" y2="471.5" stroke="#8f8f8f" stroke-width="1.1"/>
<line x1="51.2" y1="471.5" x2="51.2" y2="468.5" stroke="#8f8f8f" stroke-width="1"/>
<line x1="105.6" y1="471.5" x2="105.6" y2="468.5" stroke="#8f8f8f" stroke-width="1"/>
<line x1="160" y1="471.5" x2="160" y2="468.5" stroke="#8f8f8f" stroke-width="1"/>
<line x1="214.4" y1="471.5" x2="214.4" y2="468.5" stroke="#8f8f8f" stroke-width="1"/>
<text x="41.2" y="352.76" font-size="10.3" font-family="'Liberation Sans', Arial, sans-serif" fill="#2b2b2b" text-anchor="end" stroke="#2b2b2b" stroke-width="0.33">1.5</text>
<text x="41.2" y="366.49" font-size="10.3" font-family="'Liberation Sans', Arial, sans-serif" fill="#2b2b2b" text-anchor="end" stroke="#2b2b2b" stroke-width="0.33">1</text>
<text x="41.2" y="380.22" font-size="10.3" font-family="'Liberation Sans', Arial, sans-serif" fill="#2b2b2b" text-anchor="end" stroke="#2b2b2b" stroke-width="0.33">0.5</text>
<text x="41.2" y="393.95" font-size="10.3" font-family="'Liberation Sans', Arial, sans-serif" fill="#2b2b2b" text-anchor="end" stroke="#2b2b2b" stroke-width="0.33">0</text>
<text x="41.2" y="407.68" font-size="10.3" font-family="'Liberation Sans', Arial, sans-serif" fill="#2b2b2b" text-anchor="end" stroke="#2b2b2b" stroke-width="0.33">-0.5</text>
<text x="41.2" y="421.41" font-size="10.3" font-family="'Liberation Sans', Arial, sans-serif" fill="#2b2b2b" text-anchor="end" stroke="#2b2b2b" stroke-width="0.33">-1</text>
<text x="41.2" y="435.14" font-size="10.3" font-family="'Liberation Sans', Arial, sans-serif" fill="#2b2b2b" text-anchor="end" stroke="#2b2b2b" stroke-width="0.33">-1.5</text>
<text x="41.2" y="448.87" font-size="10.3" font-family="'Liberation Sans', Arial, sans-serif" fill="#2b2b2b" text-anchor="end" stroke="#2b2b2b" stroke-width="0.33">-2</text>
<text x="41.2" y="462.6" font-size="10.3" font-family="'Liberation Sans', Arial, sans-serif" fill="#2b2b2b" text-anchor="end" stroke="#2b2b2b" stroke-width="0.33">-2.5</text>
<text x="41.2" y="476.33" font-size="10.3" font-family="'Liberation Sans', Arial, sans-serif" fill="#2b2b2b" text-anchor="end" stroke="#2b2b2b" stroke-width="0.33">-3</text>
<text x="51.2" y="491.16" font-size="10.3" font-family="'Liberation Sans', Arial, sans-serif" fill="#2b2b2b" text-anchor="middle" stroke="#2b2b2b" stroke-width="0.33">400</text>
<text x="105.6" y="491.16" font-size="10.3" font-family="'Liberation Sans', Arial, sans-serif" fill="#2b2b2b" text-anchor="middle" stroke="#2b2b2b" stroke-width="0.33">600</text>
<text x="160" y="491.16" font-size="10.3" font-family="'Liberation Sans', Arial, sans-serif" fill="#2b2b2b" text-anchor="middle" stroke="#2b2b2b" stroke-width="0.33">800</text>
<text x="214.4" y="491.16" font-size="10.3" font-family="'Liberation Sans', Arial, sans-serif" fill="#2b2b2b" text-anchor="middle" stroke="#2b2b2b" stroke-width="0.33">1000</text>
<path d="M53 362.5L56.6 366.1L53 369.7L49.4 366.1Z" fill="#1f6fc2"/>
<path d="M64.5 362.5L68.1 366.1L64.5 369.7L60.9 366.1Z" fill="#1f6fc2"/>
<path d="M89 359.5L92.6 363.1L89 366.7L85.4 363.1Z" fill="#1f6fc2"/>
<path d="M118 363.2L121.6 366.8L118 370.4L114.4 366.8Z" fill="#1f6fc2"/>
<path d="M142.2 375L145.8 378.6L142.2 382.2L138.6 378.6Z" fill="#1f6fc2"/>
<path d="M162.4 381.9L166 385.5L162.4 389.1L158.8 385.5Z" fill="#1f6fc2"/>
<path d="M177.7 402.7L181.3 406.3L177.7 409.9L174.1 406.3Z" fill="#1f6fc2"/>
<path d="M211.2 365.1L214.8 368.7L211.2 372.3L207.6 368.7Z" fill="#1f6fc2"/>
<rect x="66.9" y="362.4" width="6.4" height="6.4" fill="#df3030"/>
<rect x="68.9" y="371" width="6.4" height="6.4" fill="#df3030"/>
<rect x="92.7" y="358.7" width="6.4" height="6.4" fill="#df3030"/>
<rect x="119.7" y="356.8" width="6.4" height="6.4" fill="#df3030"/>
<rect x="122.2" y="350.6" width="6.4" height="6.4" fill="#df3030"/>
<rect x="119.7" y="386.9" width="6.4" height="6.4" fill="#df3030"/>
<rect x="132.7" y="366.1" width="6.4" height="6.4" fill="#df3030"/>
<rect x="144.9" y="365.5" width="6.4" height="6.4" fill="#df3030"/>
<rect x="152.6" y="374.4" width="6.4" height="6.4" fill="#df3030"/>
<path d="M54.2 375.63L58.25 383.97L50.15 383.97Z" fill="#74ad2e"/>
<path d="M64.5 374.93L68.55 383.27L60.45 383.27Z" fill="#74ad2e"/>
<path d="M89 374.93L93.05 383.27L84.95 383.27Z" fill="#74ad2e"/>
<path d="M117.3 377.33L121.35 385.67L113.25 385.67Z" fill="#74ad2e"/>
<path d="M142.3 384.83L146.35 393.17L138.25 393.17Z" fill="#74ad2e"/>
<path d="M162.4 385.63L166.45 393.97L158.35 393.97Z" fill="#74ad2e"/>
<path d="M177.7 392.53L181.75 400.87L173.65 400.87Z" fill="#74ad2e"/>
<path d="M211.2 378.83L215.25 387.17L207.15 387.17Z" fill="#74ad2e"/>
<path d="M68.1 376.5L74.7 383.1M74.7 376.5L68.1 383.1" stroke="#3a3a3a" stroke-width="1.1" fill="none"/>
<path d="M92.1 372.1L98.7 378.7M98.7 372.1L92.1 378.7" stroke="#3a3a3a" stroke-width="1.1" fill="none"/>
<path d="M119.6 372.1L126.2 378.7M126.2 372.1L119.6 378.7" stroke="#3a3a3a" stroke-width="1.1" fill="none"/>
<path d="M118.5 379.5L125.1 386.1M125.1 379.5L118.5 386.1" stroke="#3a3a3a" stroke-width="1.1" fill="none"/>
<path d="M132.2 368.7L138.8 375.3M138.8 368.7L132.2 375.3" stroke="#3a3a3a" stroke-width="1.1" fill="none"/>
<path d="M144.2 369.9L150.8 376.5M150.8 369.9L144.2 376.5" stroke="#3a3a3a" stroke-width="1.1" fill="none"/>
<path d="M50.6 456.4L57.8 463.6M57.8 456.4L50.6 463.6" stroke="#1fa9c4" stroke-width="1.0" fill="none"/><path d="M54.2 456L54.2 464" stroke="#1fa9c4" stroke-width="1.7"/>
<path d="M59.9 448.2L67.1 455.4M67.1 448.2L59.9 455.4" stroke="#1fa9c4" stroke-width="1.0" fill="none"/><path d="M63.5 447.8L63.5 455.8" stroke="#1fa9c4" stroke-width="1.7"/>
<path d="M85.4 462.2L92.6 469.4M92.6 462.2L85.4 469.4" stroke="#1fa9c4" stroke-width="1.0" fill="none"/><path d="M89 461.8L89 469.8" stroke="#1fa9c4" stroke-width="1.7"/>
<path d="M114.4 435.4L121.6 442.6M121.6 435.4L114.4 442.6" stroke="#1fa9c4" stroke-width="1.0" fill="none"/><path d="M118 435L118 443" stroke="#1fa9c4" stroke-width="1.7"/>
<path d="M138.6 439.9L145.8 447.1M145.8 439.9L138.6 447.1" stroke="#1fa9c4" stroke-width="1.0" fill="none"/><path d="M142.2 439.5L142.2 447.5" stroke="#1fa9c4" stroke-width="1.7"/>
<path d="M158.8 439L166 446.2M166 439L158.8 446.2" stroke="#1fa9c4" stroke-width="1.0" fill="none"/><path d="M162.4 438.6L162.4 446.6" stroke="#1fa9c4" stroke-width="1.7"/>
<path d="M174.1 430.6L181.3 437.8M181.3 430.6L174.1 437.8" stroke="#1fa9c4" stroke-width="1.0" fill="none"/><path d="M177.7 430.2L177.7 438.2" stroke="#1fa9c4" stroke-width="1.7"/>
<path d="M207.6 433.9L214.8 441.1M214.8 433.9L207.6 441.1" stroke="#1fa9c4" stroke-width="1.0" fill="none"/><path d="M211.2 433.5L211.2 441.5" stroke="#1fa9c4" stroke-width="1.7"/>
<circle cx="71.4" cy="456.2" r="3.3" fill="#f07c2a"/>
<circle cx="70.1" cy="467.8" r="3.3" fill="#f07c2a"/>
<circle cx="95.9" cy="464.8" r="3.3" fill="#f07c2a"/>
<circle cx="122.4" cy="437.8" r="3.3" fill="#f07c2a"/>
<circle cx="125.9" cy="457.2" r="3.3" fill="#f07c2a"/>
<circle cx="123.4" cy="467.8" r="3.3" fill="#f07c2a"/>
<circle cx="135.7" cy="469" r="3.3" fill="#f07c2a"/>
<circle cx="148.1" cy="445.1" r="3.3" fill="#f07c2a"/>
<circle cx="155.8" cy="441" r="3.3" fill="#f07c2a"/>
<line x1="53" y1="365.6" x2="211.2" y2="372.7" stroke="#f29040" stroke-width="1.3"/>
<line x1="53" y1="365.6" x2="211.2" y2="388" stroke="#2692d8" stroke-width="1.5"/>
<line x1="53" y1="377.4" x2="211.2" y2="372.7" stroke="#333333" stroke-width="1.2"/>
<line x1="53" y1="379" x2="211.2" y2="391" stroke="#19c27e" stroke-width="1.6"/>
<line x1="53" y1="459.2" x2="211.2" y2="434.7" stroke="#17b5e6" stroke-width="1.6"/>
<line x1="53" y1="467.3" x2="210" y2="438.5" stroke="#f29040" stroke-width="1.3"/>
<text x="58.6" y="356.76" font-size="9.6" font-family="'Liberation Sans', Arial, sans-serif" fill="#e53535" text-anchor="start" textLength="39.3" lengthAdjust="spacingAndGlyphs" stroke="#e53535" stroke-width="0.33">R<tspan font-size="6" dy="-3.4">2</tspan><tspan dy="3.4"> = 0.02</tspan></text>
<text x="56.6" y="399.26" font-size="9.6" font-family="'Liberation Sans', Arial, sans-serif" fill="#333" text-anchor="start" textLength="43" lengthAdjust="spacingAndGlyphs" stroke="#333" stroke-width="0.33">R<tspan font-size="6" dy="-3.4">2</tspan><tspan dy="3.4"> = 0.17</tspan></text>
<text x="170" y="365.26" font-size="9.6" font-family="'Liberation Sans', Arial, sans-serif" fill="#2692d8" text-anchor="start" textLength="39.2" lengthAdjust="spacingAndGlyphs" stroke="#2692d8" stroke-width="0.33">R<tspan font-size="6" dy="-3.4">2</tspan><tspan dy="3.4"> = 0.31</tspan></text>
<text x="170" y="419.96" font-size="9.6" font-family="'Liberation Sans', Arial, sans-serif" fill="#19c27e" text-anchor="start" textLength="38.7" lengthAdjust="spacingAndGlyphs" stroke="#19c27e" stroke-width="0.33">R<tspan font-size="6" dy="-3.4">2</tspan><tspan dy="3.4"> = 0.49</tspan></text>
<text x="60.3" y="441.76" font-size="9.6" font-family="'Liberation Sans', Arial, sans-serif" fill="#f29040" text-anchor="start" textLength="40" lengthAdjust="spacingAndGlyphs" stroke="#f29040" stroke-width="0.33">R<tspan font-size="6" dy="-3.4">2</tspan><tspan dy="3.4"> = 0.25</tspan></text>
<text x="170" y="462.36" font-size="9.6" font-family="'Liberation Sans', Arial, sans-serif" fill="#17b5e6" text-anchor="start" textLength="38.7" lengthAdjust="spacingAndGlyphs" stroke="#17b5e6" stroke-width="0.33">R<tspan font-size="6" dy="-3.4">2</tspan><tspan dy="3.4"> = 0.64</tspan></text>
<path d="M225 346.8L228.1 349.9L225 353L221.9 349.9Z" fill="#1f6fc2"/>
<text x="230.6" y="353.38" font-size="9.8" font-family="'Liberation Sans', Arial, sans-serif" fill="#2b2b2b" text-anchor="start" textLength="37.4" lengthAdjust="spacingAndGlyphs" stroke="#2b2b2b" stroke-width="0.33">Dolomite</text>
<text x="230.6" y="365.66" font-size="9.8" font-family="'Liberation Sans', Arial, sans-serif" fill="#2b2b2b" text-anchor="start" textLength="23.3" lengthAdjust="spacingAndGlyphs" stroke="#2b2b2b" stroke-width="0.33">(Sr&gt;7)</text>
<rect x="222.1" y="371.56" width="5.8" height="5.8" fill="#df3030"/>
<text x="230.6" y="377.94" font-size="9.8" font-family="'Liberation Sans', Arial, sans-serif" fill="#2b2b2b" text-anchor="start" textLength="37.4" lengthAdjust="spacingAndGlyphs" stroke="#2b2b2b" stroke-width="0.33">Dolomite</text>
<text x="230.6" y="390.22" font-size="9.8" font-family="'Liberation Sans', Arial, sans-serif" fill="#2b2b2b" text-anchor="start" textLength="23.3" lengthAdjust="spacingAndGlyphs" stroke="#2b2b2b" stroke-width="0.33">(Sr&lt;7)</text>
<path d="M225 396.02L228 402.02L222 402.02Z" fill="#74ad2e"/>
<text x="230.6" y="402.5" font-size="9.8" font-family="'Liberation Sans', Arial, sans-serif" fill="#2b2b2b" text-anchor="start" textLength="27.7" lengthAdjust="spacingAndGlyphs" stroke="#2b2b2b" stroke-width="0.33">Calcite</text>
<text x="230.6" y="414.78" font-size="9.8" font-family="'Liberation Sans', Arial, sans-serif" fill="#2b2b2b" text-anchor="start" textLength="23.3" lengthAdjust="spacingAndGlyphs" stroke="#2b2b2b" stroke-width="0.33">(Sr&gt;7)</text>
<path d="M222.1 420.68L227.9 426.48M227.9 420.68L222.1 426.48" stroke="#3a3a3a" stroke-width="1" fill="none"/>
<text x="230.6" y="427.06" font-size="9.8" font-family="'Liberation Sans', Arial, sans-serif" fill="#2b2b2b" text-anchor="start" textLength="27.7" lengthAdjust="spacingAndGlyphs" stroke="#2b2b2b" stroke-width="0.33">Calcite</text>
<text x="230.6" y="439.34" font-size="9.8" font-family="'Liberation Sans', Arial, sans-serif" fill="#2b2b2b" text-anchor="start" textLength="23.3" lengthAdjust="spacingAndGlyphs" stroke="#2b2b2b" stroke-width="0.33">(Sr&lt;7)</text>
<path d="M222.1 445.24L227.9 451.04M227.9 445.24L222.1 451.04" stroke="#1fa9c4" stroke-width="1" fill="none"/><path d="M225 444.84L225 451.44" stroke="#1fa9c4" stroke-width="1.7"/>
<text x="230.6" y="451.62" font-size="9.8" font-family="'Liberation Sans', Arial, sans-serif" fill="#2b2b2b" text-anchor="start" textLength="34.4" lengthAdjust="spacingAndGlyphs" stroke="#2b2b2b" stroke-width="0.33">Gypsum</text>
<text x="230.6" y="463.9" font-size="9.8" font-family="'Liberation Sans', Arial, sans-serif" fill="#2b2b2b" text-anchor="start" textLength="23.3" lengthAdjust="spacingAndGlyphs" stroke="#2b2b2b" stroke-width="0.33">(Sr&gt;7)</text>
<circle cx="225" cy="472.7" r="3.1" fill="#f07c2a"/>
<text x="230.6" y="476.18" font-size="9.8" font-family="'Liberation Sans', Arial, sans-serif" fill="#2b2b2b" text-anchor="start" textLength="34.4" lengthAdjust="spacingAndGlyphs" stroke="#2b2b2b" stroke-width="0.33">Gypsum</text>
<text x="230.6" y="488.46" font-size="9.8" font-family="'Liberation Sans', Arial, sans-serif" fill="#2b2b2b" text-anchor="start" textLength="23.3" lengthAdjust="spacingAndGlyphs" stroke="#2b2b2b" stroke-width="0.33">(Sr&lt;7)</text>
<text x="131.2" y="353.4" font-size="15" font-family="'Liberation Serif', 'Times New Roman', serif" fill="#111" text-anchor="start" textLength="14.4" lengthAdjust="spacingAndGlyphs" stroke="#111" stroke-width="0.25">(<tspan font-weight="bold">e</tspan>)</text>
<text x="110.4" y="507.4" font-size="12" font-family="'Liberation Serif', 'Times New Roman', serif" fill="#111" text-anchor="start" font-weight="bold" textLength="65.2" lengthAdjust="spacingAndGlyphs" stroke="#111" stroke-width="0.25">TDS (mg.L<tspan font-size="7" dy="-4">-1</tspan><tspan dy="4">)</tspan></text>
<text transform="translate(17.6 412.9) rotate(-90)" font-size="12" font-family="'Liberation Serif', 'Times New Roman', serif" font-weight="bold" fill="#111" stroke="#111" stroke-width="0.25" text-anchor="middle" textLength="82.2" lengthAdjust="spacingAndGlyphs">Saturation index</text>
<rect x="289.5" y="344.1" width="254.6" height="152.2" fill="none" stroke="#8a8a8a" stroke-width="1.4"/>
<line x1="310.7" y1="351.4" x2="310.7" y2="472.99" stroke="#8f8f8f" stroke-width="1.1"/>
<line x1="310.7" y1="351.4" x2="313.7" y2="351.4" stroke="#8f8f8f" stroke-width="1"/>
<line x1="310.7" y1="368.77" x2="313.7" y2="368.77" stroke="#8f8f8f" stroke-width="1"/>
<line x1="310.7" y1="386.14" x2="313.7" y2="386.14" stroke="#8f8f8f" stroke-width="1"/>
<line x1="310.7" y1="403.51" x2="313.7" y2="403.51" stroke="#8f8f8f" stroke-width="1"/>
<line x1="310.7" y1="420.88" x2="313.7" y2="420.88" stroke="#8f8f8f" stroke-width="1"/>
<line x1="310.7" y1="438.25" x2="313.7" y2="438.25" stroke="#8f8f8f" stroke-width="1"/>
<line x1="310.7" y1="455.62" x2="313.7" y2="455.62" stroke="#8f8f8f" stroke-width="1"/>
<line x1="310.7" y1="472.99" x2="313.7" y2="472.99" stroke="#8f8f8f" stroke-width="1"/>
<line x1="310.7" y1="473" x2="474.8" y2="473" stroke="#8f8f8f" stroke-width="1.1"/>
<line x1="310.7" y1="473" x2="310.7" y2="470" stroke="#8f8f8f" stroke-width="1"/>
<line x1="365.4" y1="473" x2="365.4" y2="470" stroke="#8f8f8f" stroke-width="1"/>
<line x1="420.1" y1="473" x2="420.1" y2="470" stroke="#8f8f8f" stroke-width="1"/>
<line x1="474.8" y1="473" x2="474.8" y2="470" stroke="#8f8f8f" stroke-width="1"/>
<text x="300.3" y="355.06" font-size="10.3" font-family="'Liberation Sans', Arial, sans-serif" fill="#2b2b2b" text-anchor="end" stroke="#2b2b2b" stroke-width="0.33">3</text>
<text x="300.3" y="372.43" font-size="10.3" font-family="'Liberation Sans', Arial, sans-serif" fill="#2b2b2b" text-anchor="end" stroke="#2b2b2b" stroke-width="0.33">2</text>
<text x="300.3" y="389.8" font-size="10.3" font-family="'Liberation Sans', Arial, sans-serif" fill="#2b2b2b" text-anchor="end" stroke="#2b2b2b" stroke-width="0.33">1</text>
<text x="300.3" y="407.17" font-size="10.3" font-family="'Liberation Sans', Arial, sans-serif" fill="#2b2b2b" text-anchor="end" stroke="#2b2b2b" stroke-width="0.33">0</text>
<text x="300.3" y="424.54" font-size="10.3" font-family="'Liberation Sans', Arial, sans-serif" fill="#2b2b2b" text-anchor="end" stroke="#2b2b2b" stroke-width="0.33">-1</text>
<text x="300.3" y="441.91" font-size="10.3" font-family="'Liberation Sans', Arial, sans-serif" fill="#2b2b2b" text-anchor="end" stroke="#2b2b2b" stroke-width="0.33">-2</text>
<text x="300.3" y="459.28" font-size="10.3" font-family="'Liberation Sans', Arial, sans-serif" fill="#2b2b2b" text-anchor="end" stroke="#2b2b2b" stroke-width="0.33">-3</text>
<text x="300.3" y="476.65" font-size="10.3" font-family="'Liberation Sans', Arial, sans-serif" fill="#2b2b2b" text-anchor="end" stroke="#2b2b2b" stroke-width="0.33">-4</text>
<text x="310.7" y="491.66" font-size="10.3" font-family="'Liberation Sans', Arial, sans-serif" fill="#2b2b2b" text-anchor="middle" stroke="#2b2b2b" stroke-width="0.33">400</text>
<text x="365.4" y="491.66" font-size="10.3" font-family="'Liberation Sans', Arial, sans-serif" fill="#2b2b2b" text-anchor="middle" stroke="#2b2b2b" stroke-width="0.33">600</text>
<text x="420.1" y="491.66" font-size="10.3" font-family="'Liberation Sans', Arial, sans-serif" fill="#2b2b2b" text-anchor="middle" stroke="#2b2b2b" stroke-width="0.33">800</text>
<text x="474.8" y="491.66" font-size="10.3" font-family="'Liberation Sans', Arial, sans-serif" fill="#2b2b2b" text-anchor="middle" stroke="#2b2b2b" stroke-width="0.33">1000</text>
<path d="M323 371.1L326.6 374.7L323 378.3L319.4 374.7Z" fill="#1f6fc2"/>
<path d="M348.2 366.2L351.8 369.8L348.2 373.4L344.6 369.8Z" fill="#1f6fc2"/>
<path d="M377.7 364.4L381.3 368L377.7 371.6L374.1 368Z" fill="#1f6fc2"/>
<path d="M401 365.2L404.6 368.8L401 372.4L397.4 368.8Z" fill="#1f6fc2"/>
<path d="M421.5 368.4L425.1 372L421.5 375.6L417.9 372Z" fill="#1f6fc2"/>
<path d="M435.4 376.8L439 380.4L435.4 384L431.8 380.4Z" fill="#1f6fc2"/>
<path d="M469.3 362.8L472.9 366.4L469.3 370L465.7 366.4Z" fill="#1f6fc2"/>
<rect x="325.9" y="383.3" width="6.4" height="6.4" fill="#df3030"/>
<rect x="327.8" y="392.6" width="6.4" height="6.4" fill="#df3030"/>
<rect x="352.2" y="383.8" width="6.4" height="6.4" fill="#df3030"/>
<rect x="377.9" y="395" width="6.4" height="6.4" fill="#df3030"/>
<rect x="379.9" y="373.4" width="6.4" height="6.4" fill="#df3030"/>
<rect x="381.9" y="374.7" width="6.4" height="6.4" fill="#df3030"/>
<rect x="391.4" y="382" width="6.4" height="6.4" fill="#df3030"/>
<rect x="403.9" y="388.7" width="6.4" height="6.4" fill="#df3030"/>
<rect x="411.5" y="383.3" width="6.4" height="6.4" fill="#df3030"/>
<path d="M323 443.93L327.05 452.27L318.95 452.27Z" fill="#74ad2e"/>
<path d="M348.2 447.63L352.25 455.97L344.15 455.97Z" fill="#74ad2e"/>
<path d="M377.7 427.23L381.75 435.57L373.65 435.57Z" fill="#74ad2e"/>
<path d="M401 426.83L405.05 435.17L396.95 435.17Z" fill="#74ad2e"/>
<path d="M421.5 428.73L425.55 437.07L417.45 437.07Z" fill="#74ad2e"/>
<path d="M435.4 426.23L439.45 434.57L431.35 434.57Z" fill="#74ad2e"/>
<path d="M469.3 423.13L473.35 431.47L465.25 431.47Z" fill="#74ad2e"/>
<path d="M325.8 466.2L332.4 472.8M332.4 466.2L325.8 472.8" stroke="#3a3a3a" stroke-width="1.1" fill="none"/>
<path d="M328.2 466.2L334.8 472.8M334.8 466.2L328.2 472.8" stroke="#3a3a3a" stroke-width="1.1" fill="none"/>
<path d="M351.6 466.9L358.2 473.5M358.2 466.9L351.6 473.5" stroke="#3a3a3a" stroke-width="1.1" fill="none"/>
<path d="M377.8 457.1L384.4 463.7M384.4 457.1L377.8 463.7" stroke="#3a3a3a" stroke-width="1.1" fill="none"/>
<path d="M381 454.7L387.6 461.3M387.6 454.7L381 461.3" stroke="#3a3a3a" stroke-width="1.1" fill="none"/>
<path d="M379.8 458.8L386.4 465.4M386.4 458.8L379.8 465.4" stroke="#3a3a3a" stroke-width="1.1" fill="none"/>
<path d="M390.8 469.9L397.4 476.5M397.4 469.9L390.8 476.5" stroke="#3a3a3a" stroke-width="1.1" fill="none"/>
<path d="M403.8 457.8L410.4 464.4M410.4 457.8L403.8 464.4" stroke="#3a3a3a" stroke-width="1.1" fill="none"/>
<path d="M410.7 450.7L417.3 457.3M417.3 450.7L410.7 457.3" stroke="#3a3a3a" stroke-width="1.1" fill="none"/>
<line x1="323" y1="371.7" x2="468.5" y2="370.2" stroke="#2692d8" stroke-width="1.6"/>
<line x1="323" y1="389.4" x2="469" y2="383" stroke="#e07a3a" stroke-width="1.3"/>
<line x1="323" y1="448.1" x2="469" y2="424.8" stroke="#19c27e" stroke-width="1.6"/>
<line x1="323" y1="471" x2="469.8" y2="449.4" stroke="#333333" stroke-width="1.2"/>
<text x="427.3" y="358.16" font-size="9.6" font-family="'Liberation Sans', Arial, sans-serif" fill="#2692d8" text-anchor="start" textLength="40" lengthAdjust="spacingAndGlyphs" stroke="#2692d8" stroke-width="0.33">R<tspan font-size="6" dy="-3.4">2</tspan><tspan dy="3.4"> = 0.01</tspan></text>
<text x="429" y="398.36" font-size="9.6" font-family="'Liberation Sans', Arial, sans-serif" fill="#e53535" text-anchor="start" textLength="40" lengthAdjust="spacingAndGlyphs" stroke="#e53535" stroke-width="0.33">R<tspan font-size="6" dy="-3.4">2</tspan><tspan dy="3.4"> = 0.04</tspan></text>
<text x="428.3" y="421.46" font-size="9.6" font-family="'Liberation Sans', Arial, sans-serif" fill="#19c27e" text-anchor="start" textLength="40.2" lengthAdjust="spacingAndGlyphs" stroke="#19c27e" stroke-width="0.33">R<tspan font-size="6" dy="-3.4">2</tspan><tspan dy="3.4"> = 0.73</tspan></text>
<text x="430.9" y="468.16" font-size="9.6" font-family="'Liberation Sans', Arial, sans-serif" fill="#333" text-anchor="start" textLength="39.7" lengthAdjust="spacingAndGlyphs" stroke="#333" stroke-width="0.33">R<tspan font-size="6" dy="-3.4">2</tspan><tspan dy="3.4"> = 0.45</tspan></text>
<path d="M480.8 359.5L483.6 362.3L480.8 365.1L478 362.3Z" fill="#1f6fc2"/>
<text x="487.2" y="364.8" font-size="9.3" font-family="'Liberation Sans', Arial, sans-serif" fill="#2b2b2b" text-anchor="start" textLength="48.3" lengthAdjust="spacingAndGlyphs" stroke="#2b2b2b" stroke-width="0.33">Strontianite</text>
<text x="487.2" y="377.5" font-size="9.3" font-family="'Liberation Sans', Arial, sans-serif" fill="#2b2b2b" text-anchor="start" textLength="48.5" lengthAdjust="spacingAndGlyphs" stroke="#2b2b2b" stroke-width="0.33">(Sr &gt; 7mg/L)</text>
<rect x="478.2" y="387.7" width="5.2" height="5.2" fill="#df3030"/>
<text x="487.2" y="392.8" font-size="9.3" font-family="'Liberation Sans', Arial, sans-serif" fill="#2b2b2b" text-anchor="start" textLength="48.3" lengthAdjust="spacingAndGlyphs" stroke="#2b2b2b" stroke-width="0.33">Strontianite</text>
<text x="487.2" y="405" font-size="9.3" font-family="'Liberation Sans', Arial, sans-serif" fill="#2b2b2b" text-anchor="start" textLength="48.5" lengthAdjust="spacingAndGlyphs" stroke="#2b2b2b" stroke-width="0.33">(Sr &lt; 7mg/L)</text>
<path d="M480.8 415.3L483.3 420.3L478.3 420.3Z" fill="#74ad2e"/>
<text x="487.2" y="420.3" font-size="9.3" font-family="'Liberation Sans', Arial, sans-serif" fill="#2b2b2b" text-anchor="start" textLength="36" lengthAdjust="spacingAndGlyphs" stroke="#2b2b2b" stroke-width="0.33">Celestite</text>
<text x="487.2" y="432.3" font-size="9.3" font-family="'Liberation Sans', Arial, sans-serif" fill="#2b2b2b" text-anchor="start" textLength="48.5" lengthAdjust="spacingAndGlyphs" stroke="#2b2b2b" stroke-width="0.33">(Sr &gt; 7mg/L)</text>
<path d="M478.2 442.4L483.4 447.6M483.4 442.4L478.2 447.6" stroke="#3a3a3a" stroke-width="1.1" fill="none"/>
<text x="487.2" y="447.5" font-size="9.3" font-family="'Liberation Sans', Arial, sans-serif" fill="#2b2b2b" text-anchor="start" textLength="36" lengthAdjust="spacingAndGlyphs" stroke="#2b2b2b" stroke-width="0.33">Celestite</text>
<text x="487.2" y="459.6" font-size="9.3" font-family="'Liberation Sans', Arial, sans-serif" fill="#2b2b2b" text-anchor="start" textLength="48.5" lengthAdjust="spacingAndGlyphs" stroke="#2b2b2b" stroke-width="0.33">(Sr &lt; 7mg/L)</text>
<text x="404.1" y="353.4" font-size="15" font-family="'Liberation Serif', 'Times New Roman', serif" fill="#111" text-anchor="start" textLength="12.5" lengthAdjust="spacingAndGlyphs" stroke="#111" stroke-width="0.25">(<tspan font-weight="bold">f</tspan>)</text>
<text x="385" y="507.8" font-size="12" font-family="'Liberation Serif', 'Times New Roman', serif" fill="#111" text-anchor="start" font-weight="bold" textLength="62.7" lengthAdjust="spacingAndGlyphs" stroke="#111" stroke-width="0.25">TDS (mg.L<tspan font-size="7" dy="-4">-1</tspan><tspan dy="4">)</tspan></text>
<text transform="translate(285.8 414.6) rotate(-90)" font-size="12" font-family="'Liberation Serif', 'Times New Roman', serif" font-weight="bold" fill="#111" stroke="#111" stroke-width="0.25" text-anchor="middle" textLength="83.6" lengthAdjust="spacingAndGlyphs">Saturation index</text>
<rect x="19.8" y="513.3" width="254.4" height="151.9" fill="none" stroke="#8a8a8a" stroke-width="1.4"/>
<line x1="48.5" y1="519.6" x2="48.5" y2="643.44" stroke="#8f8f8f" stroke-width="1.1"/>
<line x1="48.5" y1="519.6" x2="51.5" y2="519.6" stroke="#8f8f8f" stroke-width="1"/>
<line x1="48.5" y1="533.36" x2="51.5" y2="533.36" stroke="#8f8f8f" stroke-width="1"/>
<line x1="48.5" y1="547.12" x2="51.5" y2="547.12" stroke="#8f8f8f" stroke-width="1"/>
<line x1="48.5" y1="560.88" x2="51.5" y2="560.88" stroke="#8f8f8f" stroke-width="1"/>
<line x1="48.5" y1="574.64" x2="51.5" y2="574.64" stroke="#8f8f8f" stroke-width="1"/>
<line x1="48.5" y1="588.4" x2="51.5" y2="588.4" stroke="#8f8f8f" stroke-width="1"/>
<line x1="48.5" y1="602.16" x2="51.5" y2="602.16" stroke="#8f8f8f" stroke-width="1"/>
<line x1="48.5" y1="615.92" x2="51.5" y2="615.92" stroke="#8f8f8f" stroke-width="1"/>
<line x1="48.5" y1="629.68" x2="51.5" y2="629.68" stroke="#8f8f8f" stroke-width="1"/>
<line x1="48.5" y1="643.44" x2="51.5" y2="643.44" stroke="#8f8f8f" stroke-width="1"/>
<line x1="48" y1="642" x2="208" y2="642" stroke="#8f8f8f" stroke-width="1.1"/>
<line x1="48" y1="642" x2="48" y2="639" stroke="#8f8f8f" stroke-width="1"/>
<line x1="88" y1="642" x2="88" y2="639" stroke="#8f8f8f" stroke-width="1"/>
<line x1="128" y1="642" x2="128" y2="639" stroke="#8f8f8f" stroke-width="1"/>
<line x1="168" y1="642" x2="168" y2="639" stroke="#8f8f8f" stroke-width="1"/>
<line x1="208" y1="642" x2="208" y2="639" stroke="#8f8f8f" stroke-width="1"/>
<text x="39.6" y="523.26" font-size="10.3" font-family="'Liberation Sans', Arial, sans-serif" fill="#2b2b2b" text-anchor="end" stroke="#2b2b2b" stroke-width="0.33">1.5</text>
<text x="39.6" y="537.02" font-size="10.3" font-family="'Liberation Sans', Arial, sans-serif" fill="#2b2b2b" text-anchor="end" stroke="#2b2b2b" stroke-width="0.33">1</text>
<text x="39.6" y="550.78" font-size="10.3" font-family="'Liberation Sans', Arial, sans-serif" fill="#2b2b2b" text-anchor="end" stroke="#2b2b2b" stroke-width="0.33">0.5</text>
<text x="39.6" y="564.54" font-size="10.3" font-family="'Liberation Sans', Arial, sans-serif" fill="#2b2b2b" text-anchor="end" stroke="#2b2b2b" stroke-width="0.33">0</text>
<text x="39.6" y="578.3" font-size="10.3" font-family="'Liberation Sans', Arial, sans-serif" fill="#2b2b2b" text-anchor="end" stroke="#2b2b2b" stroke-width="0.33">-0.5</text>
<text x="39.6" y="592.06" font-size="10.3" font-family="'Liberation Sans', Arial, sans-serif" fill="#2b2b2b" text-anchor="end" stroke="#2b2b2b" stroke-width="0.33">-1</text>
<text x="39.6" y="605.82" font-size="10.3" font-family="'Liberation Sans', Arial, sans-serif" fill="#2b2b2b" text-anchor="end" stroke="#2b2b2b" stroke-width="0.33">-1.5</text>
<text x="39.6" y="619.58" font-size="10.3" font-family="'Liberation Sans', Arial, sans-serif" fill="#2b2b2b" text-anchor="end" stroke="#2b2b2b" stroke-width="0.33">-2</text>
<text x="39.6" y="633.34" font-size="10.3" font-family="'Liberation Sans', Arial, sans-serif" fill="#2b2b2b" text-anchor="end" stroke="#2b2b2b" stroke-width="0.33">-2.5</text>
<text x="39.6" y="647.1" font-size="10.3" font-family="'Liberation Sans', Arial, sans-serif" fill="#2b2b2b" text-anchor="end" stroke="#2b2b2b" stroke-width="0.33">-3</text>
<text x="48" y="660.96" font-size="10.3" font-family="'Liberation Sans', Arial, sans-serif" fill="#2b2b2b" text-anchor="middle" stroke="#2b2b2b" stroke-width="0.33">0</text>
<text x="88" y="660.96" font-size="10.3" font-family="'Liberation Sans', Arial, sans-serif" fill="#2b2b2b" text-anchor="middle" stroke="#2b2b2b" stroke-width="0.33">10</text>
<text x="128" y="660.96" font-size="10.3" font-family="'Liberation Sans', Arial, sans-serif" fill="#2b2b2b" text-anchor="middle" stroke="#2b2b2b" stroke-width="0.33">20</text>
<text x="168" y="660.96" font-size="10.3" font-family="'Liberation Sans', Arial, sans-serif" fill="#2b2b2b" text-anchor="middle" stroke="#2b2b2b" stroke-width="0.33">30</text>
<text x="208" y="660.96" font-size="10.3" font-family="'Liberation Sans', Arial, sans-serif" fill="#2b2b2b" text-anchor="middle" stroke="#2b2b2b" stroke-width="0.33">40</text>
<rect x="64.5" y="521.3" width="6.4" height="6.4" fill="#df3030"/>
<rect x="71.8" y="528.2" width="6.4" height="6.4" fill="#df3030"/>
<rect x="52.2" y="528.7" width="6.4" height="6.4" fill="#df3030"/>
<rect x="52.2" y="534.8" width="6.4" height="6.4" fill="#df3030"/>
<rect x="47.3" y="541" width="6.4" height="6.4" fill="#df3030"/>
<rect x="55.9" y="537.3" width="6.4" height="6.4" fill="#df3030"/>
<rect x="58.3" y="545.9" width="6.4" height="6.4" fill="#df3030"/>
<rect x="50.5" y="558.2" width="6.4" height="6.4" fill="#df3030"/>
<path d="M81.2 532.7L84.8 536.3L81.2 539.9L77.6 536.3Z" fill="#1f6fc2"/>
<path d="M96.4 533.2L100 536.8L96.4 540.4L92.8 536.8Z" fill="#1f6fc2"/>
<path d="M116 530.8L119.6 534.4L116 538L112.4 534.4Z" fill="#1f6fc2"/>
<path d="M57.9 542.5L61.5 546.1L57.9 549.7L54.3 546.1Z" fill="#1f6fc2"/>
<path d="M151.5 534.1L155.1 537.7L151.5 541.3L147.9 537.7Z" fill="#1f6fc2"/>
<path d="M175.6 546.5L179.2 550.1L175.6 553.7L172 550.1Z" fill="#1f6fc2"/>
<path d="M203.6 535.8L207.2 539.4L203.6 543L200 539.4Z" fill="#1f6fc2"/>
<path d="M208.7 551.1L212.3 554.7L208.7 558.3L205.1 554.7Z" fill="#1f6fc2"/>
<path d="M156.5 572.7L160.1 576.3L156.5 579.9L152.9 576.3Z" fill="#1f6fc2"/>
<path d="M81.2 546.13L85.25 554.47L77.15 554.47Z" fill="#74ad2e"/>
<path d="M96.4 546.13L100.45 554.47L92.35 554.47Z" fill="#74ad2e"/>
<path d="M116 544.93L120.05 553.27L111.95 553.27Z" fill="#74ad2e"/>
<path d="M151.5 548.03L155.55 556.37L147.45 556.37Z" fill="#74ad2e"/>
<path d="M175.6 555.13L179.65 563.47L171.55 563.47Z" fill="#74ad2e"/>
<path d="M203.6 549.23L207.65 557.57L199.55 557.57Z" fill="#74ad2e"/>
<path d="M207.4 556.13L211.45 564.47L203.35 564.47Z" fill="#74ad2e"/>
<path d="M156.5 562.53L160.55 570.87L152.45 570.87Z" fill="#74ad2e"/>
<path d="M46 549.5L52.6 556.1M52.6 549.5L46 556.1" stroke="#3a3a3a" stroke-width="1.1" fill="none"/>
<path d="M49.7 544.6L56.3 551.2M56.3 544.6L49.7 551.2" stroke="#3a3a3a" stroke-width="1.1" fill="none"/>
<path d="M64.4 539.7L71 546.3M71 539.7L64.4 546.3" stroke="#3a3a3a" stroke-width="1.1" fill="none"/>
<path d="M71.7 542.1L78.3 548.7M78.3 542.1L71.7 548.7" stroke="#3a3a3a" stroke-width="1.1" fill="none"/>
<path d="M54.6 542.8L61.2 549.4M61.2 542.8L54.6 549.4" stroke="#3a3a3a" stroke-width="1.1" fill="none"/>
<path d="M78.1 618.7L85.3 625.9M85.3 618.7L78.1 625.9" stroke="#1fa9c4" stroke-width="1.0" fill="none"/><path d="M81.7 618.3L81.7 626.3" stroke="#1fa9c4" stroke-width="1.7"/>
<path d="M92.8 626.8L100 634M100 626.8L92.8 634" stroke="#1fa9c4" stroke-width="1.0" fill="none"/><path d="M96.4 626.4L96.4 634.4" stroke="#1fa9c4" stroke-width="1.7"/>
<path d="M112.4 632.9L119.6 640.1M119.6 632.9L112.4 640.1" stroke="#1fa9c4" stroke-width="1.0" fill="none"/><path d="M116 632.5L116 640.5" stroke="#1fa9c4" stroke-width="1.7"/>
<path d="M147.9 606.4L155.1 613.6M155.1 606.4L147.9 613.6" stroke="#1fa9c4" stroke-width="1.0" fill="none"/><path d="M151.5 606L151.5 614" stroke="#1fa9c4" stroke-width="1.7"/>
<path d="M152.9 601.1L160.1 608.3M160.1 601.1L152.9 608.3" stroke="#1fa9c4" stroke-width="1.0" fill="none"/><path d="M156.5 600.7L156.5 608.7" stroke="#1fa9c4" stroke-width="1.7"/>
<path d="M172 612L179.2 619.2M179.2 612L172 619.2" stroke="#1fa9c4" stroke-width="1.0" fill="none"/><path d="M175.6 611.6L175.6 619.6" stroke="#1fa9c4" stroke-width="1.7"/>
<path d="M200 604.9L207.2 612.1M207.2 604.9L200 612.1" stroke="#1fa9c4" stroke-width="1.0" fill="none"/><path d="M203.6 604.5L203.6 612.5" stroke="#1fa9c4" stroke-width="1.7"/>
<path d="M203.8 609.4L211 616.6M211 609.4L203.8 616.6" stroke="#1fa9c4" stroke-width="1.0" fill="none"/><path d="M207.4 609L207.4 617" stroke="#1fa9c4" stroke-width="1.7"/>
<circle cx="53.7" cy="608.8" r="3.3" fill="#f07c2a"/>
<circle cx="54.7" cy="615.7" r="3.3" fill="#f07c2a"/>
<circle cx="60.3" cy="611.5" r="3.3" fill="#f07c2a"/>
<circle cx="51.7" cy="626.7" r="3.3" fill="#f07c2a"/>
<circle cx="67.7" cy="628" r="3.3" fill="#f07c2a"/>
<circle cx="55.4" cy="636.5" r="3.3" fill="#f07c2a"/>
<circle cx="57.9" cy="639.5" r="3.3" fill="#f07c2a"/>
<circle cx="75" cy="638.5" r="3.3" fill="#f07c2a"/>
<line x1="49.3" y1="532.6" x2="210" y2="556" stroke="#3aaed6" stroke-width="1.4"/>
<line x1="49.3" y1="554.5" x2="180.7" y2="519.1" stroke="#333333" stroke-width="1.2"/>
<line x1="56.6" y1="547.9" x2="210" y2="559" stroke="#6a9a30" stroke-width="1.5"/>
<line x1="55.4" y1="546.6" x2="81.2" y2="523.3" stroke="#f29040" stroke-width="1.2"/>
<line x1="50.5" y1="624.3" x2="83.1" y2="642.7" stroke="#f29040" stroke-width="1.3"/>
<line x1="51.7" y1="634.1" x2="206.7" y2="608" stroke="#17b5e6" stroke-width="1.4"/>
<text x="81.2" y="526.76" font-size="9.6" font-family="'Liberation Sans', Arial, sans-serif" fill="#f29040" text-anchor="start" textLength="40.5" lengthAdjust="spacingAndGlyphs" stroke="#f29040" stroke-width="0.33">R<tspan font-size="6" dy="-3.4">2</tspan><tspan dy="3.4"> = 0.34</tspan></text>
<text x="70.1" y="569.26" font-size="9.6" font-family="'Liberation Sans', Arial, sans-serif" fill="#333" text-anchor="start" textLength="44.2" lengthAdjust="spacingAndGlyphs" stroke="#333" stroke-width="0.33">R<tspan font-size="6" dy="-3.4">2</tspan><tspan dy="3.4"> = 0.30</tspan></text>
<text x="159" y="539.86" font-size="9.6" font-family="'Liberation Sans', Arial, sans-serif" fill="#36a9cc" text-anchor="start" textLength="40" lengthAdjust="spacingAndGlyphs" stroke="#36a9cc" stroke-width="0.33">R<tspan font-size="6" dy="-3.4">2</tspan><tspan dy="3.4"> = 0.18</tspan></text>
<text x="167.5" y="578.56" font-size="9.6" font-family="'Liberation Sans', Arial, sans-serif" fill="#19c27e" text-anchor="start" textLength="39.9" lengthAdjust="spacingAndGlyphs" stroke="#19c27e" stroke-width="0.33">R<tspan font-size="6" dy="-3.4">2</tspan><tspan dy="3.4"> = 0.35</tspan></text>
<text x="73.8" y="609.36" font-size="9.6" font-family="'Liberation Sans', Arial, sans-serif" fill="#f29040" text-anchor="start" textLength="39.3" lengthAdjust="spacingAndGlyphs" stroke="#f29040" stroke-width="0.33">R<tspan font-size="6" dy="-3.4">2</tspan><tspan dy="3.4"> = 0.14</tspan></text>
<text x="165" y="603.26" font-size="9.6" font-family="'Liberation Sans', Arial, sans-serif" fill="#17b5e6" text-anchor="start" textLength="39.1" lengthAdjust="spacingAndGlyphs" stroke="#17b5e6" stroke-width="0.33">R<tspan font-size="6" dy="-3.4">2</tspan><tspan dy="3.4"> = 0.48</tspan></text>
<path d="M220.9 519.8L224 522.9L220.9 526L217.8 522.9Z" fill="#1f6fc2"/>
<text x="227.3" y="526.38" font-size="9.8" font-family="'Liberation Sans', Arial, sans-serif" fill="#2b2b2b" text-anchor="start" textLength="41.2" lengthAdjust="spacingAndGlyphs" stroke="#2b2b2b" stroke-width="0.33">Dolomite</text>
<text x="227.3" y="539.08" font-size="9.8" font-family="'Liberation Sans', Arial, sans-serif" fill="#2b2b2b" text-anchor="start" textLength="25.4" lengthAdjust="spacingAndGlyphs" stroke="#2b2b2b" stroke-width="0.33">(Sr&gt;7)</text>
<rect x="218" y="543.6" width="5.8" height="5.8" fill="#df3030"/>
<text x="227.3" y="549.98" font-size="9.8" font-family="'Liberation Sans', Arial, sans-serif" fill="#2b2b2b" text-anchor="start" textLength="41.2" lengthAdjust="spacingAndGlyphs" stroke="#2b2b2b" stroke-width="0.33">Dolomite</text>
<text x="227.3" y="563.58" font-size="9.8" font-family="'Liberation Sans', Arial, sans-serif" fill="#2b2b2b" text-anchor="start" textLength="25.4" lengthAdjust="spacingAndGlyphs" stroke="#2b2b2b" stroke-width="0.33">(Sr&lt;7)</text>
<path d="M220.9 567.3L223.9 573.3L217.9 573.3Z" fill="#74ad2e"/>
<text x="227.3" y="573.78" font-size="9.8" font-family="'Liberation Sans', Arial, sans-serif" fill="#2b2b2b" text-anchor="start" textLength="29.8" lengthAdjust="spacingAndGlyphs" stroke="#2b2b2b" stroke-width="0.33">Calcite</text>
<text x="227.3" y="587.38" font-size="9.8" font-family="'Liberation Sans', Arial, sans-serif" fill="#2b2b2b" text-anchor="start" textLength="25.4" lengthAdjust="spacingAndGlyphs" stroke="#2b2b2b" stroke-width="0.33">(Sr&gt;7)</text>
<path d="M218 591.9L223.8 597.7M223.8 591.9L218 597.7" stroke="#3a3a3a" stroke-width="1" fill="none"/>
<text x="227.3" y="598.28" font-size="9.8" font-family="'Liberation Sans', Arial, sans-serif" fill="#2b2b2b" text-anchor="start" textLength="29.8" lengthAdjust="spacingAndGlyphs" stroke="#2b2b2b" stroke-width="0.33">Calcite</text>
<text x="227.3" y="611.88" font-size="9.8" font-family="'Liberation Sans', Arial, sans-serif" fill="#2b2b2b" text-anchor="start" textLength="25.4" lengthAdjust="spacingAndGlyphs" stroke="#2b2b2b" stroke-width="0.33">(Sr&lt;7)</text>
<path d="M218 616.5L223.8 622.3M223.8 616.5L218 622.3" stroke="#1fa9c4" stroke-width="1" fill="none"/><path d="M220.9 616.1L220.9 622.7" stroke="#1fa9c4" stroke-width="1.7"/>
<text x="227.3" y="622.88" font-size="9.8" font-family="'Liberation Sans', Arial, sans-serif" fill="#2b2b2b" text-anchor="start" textLength="34.6" lengthAdjust="spacingAndGlyphs" stroke="#2b2b2b" stroke-width="0.33">Gypsum</text>
<text x="227.3" y="635.58" font-size="9.8" font-family="'Liberation Sans', Arial, sans-serif" fill="#2b2b2b" text-anchor="start" textLength="25.4" lengthAdjust="spacingAndGlyphs" stroke="#2b2b2b" stroke-width="0.33">(Sr&gt;7)</text>
<circle cx="220.9" cy="644" r="3.1" fill="#f07c2a"/>
<text x="227.3" y="647.48" font-size="9.8" font-family="'Liberation Sans', Arial, sans-serif" fill="#2b2b2b" text-anchor="start" textLength="34.6" lengthAdjust="spacingAndGlyphs" stroke="#2b2b2b" stroke-width="0.33"><tspan font-weight="bold">Gypsum</tspan></text>
<text x="227.3" y="660.08" font-size="9.8" font-family="'Liberation Sans', Arial, sans-serif" fill="#2b2b2b" text-anchor="start" textLength="25.4" lengthAdjust="spacingAndGlyphs" stroke="#2b2b2b" stroke-width="0.33">(Sr&lt;7)</text>
<text x="133" y="522" font-size="15" font-family="'Liberation Serif', 'Times New Roman', serif" fill="#111" text-anchor="start" textLength="16.5" lengthAdjust="spacingAndGlyphs" stroke="#111" stroke-width="0.25">(g)</text>
<text x="113.1" y="677" font-size="12" font-family="'Liberation Serif', 'Times New Roman', serif" fill="#111" text-anchor="start" font-weight="bold" textLength="53.5" lengthAdjust="spacingAndGlyphs" stroke="#111" stroke-width="0.25">Sr (mg.L<tspan font-size="7" dy="-4">-1</tspan><tspan dy="4">)</tspan></text>
<text transform="translate(15.6 585.65) rotate(-90)" font-size="12" font-family="'Liberation Serif', 'Times New Roman', serif" font-weight="bold" fill="#111" stroke="#111" stroke-width="0.25" text-anchor="middle" textLength="84.1" lengthAdjust="spacingAndGlyphs">Saturation index</text>
<rect x="289.2" y="513" width="254.4" height="151.2" fill="none" stroke="#8a8a8a" stroke-width="1.4"/>
<line x1="310.7" y1="525.3" x2="310.7" y2="642.13" stroke="#8f8f8f" stroke-width="1.1"/>
<line x1="310.7" y1="525.3" x2="313.7" y2="525.3" stroke="#8f8f8f" stroke-width="1"/>
<line x1="310.7" y1="541.99" x2="313.7" y2="541.99" stroke="#8f8f8f" stroke-width="1"/>
<line x1="310.7" y1="558.68" x2="313.7" y2="558.68" stroke="#8f8f8f" stroke-width="1"/>
<line x1="310.7" y1="575.37" x2="313.7" y2="575.37" stroke="#8f8f8f" stroke-width="1"/>
<line x1="310.7" y1="592.06" x2="313.7" y2="592.06" stroke="#8f8f8f" stroke-width="1"/>
<line x1="310.7" y1="608.75" x2="313.7" y2="608.75" stroke="#8f8f8f" stroke-width="1"/>
<line x1="310.7" y1="625.44" x2="313.7" y2="625.44" stroke="#8f8f8f" stroke-width="1"/>
<line x1="310.7" y1="642.13" x2="313.7" y2="642.13" stroke="#8f8f8f" stroke-width="1"/>
<line x1="310.7" y1="641" x2="459.5" y2="641" stroke="#8f8f8f" stroke-width="1.1"/>
<line x1="310.7" y1="641" x2="310.7" y2="638" stroke="#8f8f8f" stroke-width="1"/>
<line x1="347.9" y1="641" x2="347.9" y2="638" stroke="#8f8f8f" stroke-width="1"/>
<line x1="385.1" y1="641" x2="385.1" y2="638" stroke="#8f8f8f" stroke-width="1"/>
<line x1="422.3" y1="641" x2="422.3" y2="638" stroke="#8f8f8f" stroke-width="1"/>
<line x1="459.5" y1="641" x2="459.5" y2="638" stroke="#8f8f8f" stroke-width="1"/>
<text x="299.8" y="528.96" font-size="10.3" font-family="'Liberation Sans', Arial, sans-serif" fill="#2b2b2b" text-anchor="end" stroke="#2b2b2b" stroke-width="0.33">3</text>
<text x="299.8" y="545.65" font-size="10.3" font-family="'Liberation Sans', Arial, sans-serif" fill="#2b2b2b" text-anchor="end" stroke="#2b2b2b" stroke-width="0.33">2</text>
<text x="299.8" y="562.34" font-size="10.3" font-family="'Liberation Sans', Arial, sans-serif" fill="#2b2b2b" text-anchor="end" stroke="#2b2b2b" stroke-width="0.33">1</text>
<text x="299.8" y="579.03" font-size="10.3" font-family="'Liberation Sans', Arial, sans-serif" fill="#2b2b2b" text-anchor="end" stroke="#2b2b2b" stroke-width="0.33">0</text>
<text x="299.8" y="595.72" font-size="10.3" font-family="'Liberation Sans', Arial, sans-serif" fill="#2b2b2b" text-anchor="end" stroke="#2b2b2b" stroke-width="0.33">-1</text>
<text x="299.8" y="612.41" font-size="10.3" font-family="'Liberation Sans', Arial, sans-serif" fill="#2b2b2b" text-anchor="end" stroke="#2b2b2b" stroke-width="0.33">-2</text>
<text x="299.8" y="629.1" font-size="10.3" font-family="'Liberation Sans', Arial, sans-serif" fill="#2b2b2b" text-anchor="end" stroke="#2b2b2b" stroke-width="0.33">-3</text>
<text x="299.8" y="645.79" font-size="10.3" font-family="'Liberation Sans', Arial, sans-serif" fill="#2b2b2b" text-anchor="end" stroke="#2b2b2b" stroke-width="0.33">-4</text>
<text x="310.7" y="660.16" font-size="10.3" font-family="'Liberation Sans', Arial, sans-serif" fill="#2b2b2b" text-anchor="middle" stroke="#2b2b2b" stroke-width="0.33">0</text>
<text x="347.9" y="660.16" font-size="10.3" font-family="'Liberation Sans', Arial, sans-serif" fill="#2b2b2b" text-anchor="middle" stroke="#2b2b2b" stroke-width="0.33">10</text>
<text x="385.1" y="660.16" font-size="10.3" font-family="'Liberation Sans', Arial, sans-serif" fill="#2b2b2b" text-anchor="middle" stroke="#2b2b2b" stroke-width="0.33">20</text>
<text x="422.3" y="660.16" font-size="10.3" font-family="'Liberation Sans', Arial, sans-serif" fill="#2b2b2b" text-anchor="middle" stroke="#2b2b2b" stroke-width="0.33">30</text>
<text x="459.5" y="660.16" font-size="10.3" font-family="'Liberation Sans', Arial, sans-serif" fill="#2b2b2b" text-anchor="middle" stroke="#2b2b2b" stroke-width="0.33">40</text>
<rect x="311.2" y="568" width="6.4" height="6.4" fill="#df3030"/>
<rect x="310.7" y="565" width="6.4" height="6.4" fill="#df3030"/>
<rect x="313.1" y="561.8" width="6.4" height="6.4" fill="#df3030"/>
<rect x="311.9" y="556.9" width="6.4" height="6.4" fill="#df3030"/>
<rect x="314.8" y="556.2" width="6.4" height="6.4" fill="#df3030"/>
<rect x="318" y="555.2" width="6.4" height="6.4" fill="#df3030"/>
<rect x="324.7" y="548.8" width="6.4" height="6.4" fill="#df3030"/>
<rect x="332" y="547.1" width="6.4" height="6.4" fill="#df3030"/>
<path d="M340.1 544.8L343.7 548.4L340.1 552L336.5 548.4Z" fill="#1f6fc2"/>
<path d="M354.9 541.1L358.5 544.7L354.9 548.3L351.3 544.7Z" fill="#1f6fc2"/>
<path d="M373.3 540.1L376.9 543.7L373.3 547.3L369.7 543.7Z" fill="#1f6fc2"/>
<path d="M407.1 538.1L410.7 541.7L407.1 545.3L403.5 541.7Z" fill="#1f6fc2"/>
<path d="M411.3 549.2L414.9 552.8L411.3 556.4L407.7 552.8Z" fill="#1f6fc2"/>
<path d="M429.8 539.1L433.4 542.7L429.8 546.3L426.2 542.7Z" fill="#1f6fc2"/>
<path d="M455.3 536.4L458.9 540L455.3 543.6L451.7 540Z" fill="#1f6fc2"/>
<path d="M459.1 542.2L462.7 545.8L459.1 549.4L455.5 545.8Z" fill="#1f6fc2"/>
<path d="M340.9 612.63L344.95 620.97L336.85 620.97Z" fill="#74ad2e"/>
<path d="M354.9 613.83L358.95 622.17L350.85 622.17Z" fill="#74ad2e"/>
<path d="M372.8 617.53L376.85 625.87L368.75 625.87Z" fill="#74ad2e"/>
<path d="M407.1 596.73L411.15 605.07L403.05 605.07Z" fill="#74ad2e"/>
<path d="M411.3 595.93L415.35 604.27L407.25 604.27Z" fill="#74ad2e"/>
<path d="M430.4 598.23L434.45 606.57L426.35 606.57Z" fill="#74ad2e"/>
<path d="M455.8 594.13L459.85 602.47L451.75 602.47Z" fill="#74ad2e"/>
<path d="M459.6 600.03L463.65 608.37L455.55 608.37Z" fill="#74ad2e"/>
<path d="M317.4 619.3L323.2 625.1M323.2 619.3L317.4 625.1" stroke="#222" stroke-width="1.25" fill="none"/>
<path d="M323.9 623.1L329.7 628.9M329.7 623.1L323.9 628.9" stroke="#222" stroke-width="1.25" fill="none"/>
<path d="M331.5 628.5L337.3 634.3M337.3 628.5L331.5 634.3" stroke="#222" stroke-width="1.25" fill="none"/>
<path d="M311.4 625.3L317.2 631.1M317.2 625.3L311.4 631.1" stroke="#222" stroke-width="1.25" fill="none"/>
<path d="M310.3 631.8L316.1 637.6M316.1 631.8L310.3 637.6" stroke="#222" stroke-width="1.25" fill="none"/>
<path d="M313 635.1L318.8 640.9M318.8 635.1L313 640.9" stroke="#222" stroke-width="1.25" fill="none"/>
<path d="M315.2 637.3L321 643.1M321 637.3L315.2 643.1" stroke="#222" stroke-width="1.25" fill="none"/>
<path d="M310.8 636.7L316.6 642.5M316.6 636.7L310.8 642.5" stroke="#222" stroke-width="1.25" fill="none"/>
<line x1="314.4" y1="563.8" x2="360.5" y2="525" stroke="#f05858" stroke-width="1.2"/>
<line x1="313.1" y1="546.6" x2="458.3" y2="543.3" stroke="#4f8fc8" stroke-width="1.3"/>
<line x1="310.7" y1="624.9" x2="458.3" y2="597.8" stroke="#19c27e" stroke-width="1.6"/>
<line x1="310.7" y1="636.2" x2="458.5" y2="589.8" stroke="#333333" stroke-width="1.2"/>
<text x="420.7" y="532.26" font-size="9.6" font-family="'Liberation Sans', Arial, sans-serif" fill="#3aaec4" text-anchor="start" textLength="38.9" lengthAdjust="spacingAndGlyphs" stroke="#3aaec4" stroke-width="0.33">R<tspan font-size="6" dy="-3.4">2</tspan><tspan dy="3.4"> = 0.07</tspan></text>
<text x="331.5" y="575.86" font-size="9.6" font-family="'Liberation Sans', Arial, sans-serif" fill="#e53535" text-anchor="start" textLength="39.8" lengthAdjust="spacingAndGlyphs" stroke="#e53535" stroke-width="0.33">R<tspan font-size="6" dy="-3.4">2</tspan><tspan dy="3.4"> = 0.79</tspan></text>
<text x="423.2" y="625.46" font-size="9.6" font-family="'Liberation Sans', Arial, sans-serif" fill="#19c27e" text-anchor="start" textLength="39.7" lengthAdjust="spacingAndGlyphs" stroke="#19c27e" stroke-width="0.33">R<tspan font-size="6" dy="-3.4">2</tspan><tspan dy="3.4"> = 0.74</tspan></text>
<text x="345.8" y="639.96" font-size="9.6" font-family="'Liberation Sans', Arial, sans-serif" fill="#333" text-anchor="start" textLength="39.7" lengthAdjust="spacingAndGlyphs" stroke="#333" stroke-width="0.33">R<tspan font-size="6" dy="-3.4">2</tspan><tspan dy="3.4"> = 0.12</tspan></text>
<path d="M477.9 528.2L480.7 531L477.9 533.8L475.1 531Z" fill="#1f6fc2"/>
<text x="483.7" y="534.48" font-size="9.8" font-family="'Liberation Sans', Arial, sans-serif" fill="#2b2b2b" text-anchor="start" textLength="53.3" lengthAdjust="spacingAndGlyphs" stroke="#2b2b2b" stroke-width="0.33">Strontianite</text>
<text x="483.7" y="547.98" font-size="9.8" font-family="'Liberation Sans', Arial, sans-serif" fill="#2b2b2b" text-anchor="start" textLength="54" lengthAdjust="spacingAndGlyphs" stroke="#2b2b2b" stroke-width="0.33">(Sr &gt; 7mg/L)</text>
<rect x="475.3" y="559.2" width="5.2" height="5.2" fill="#df3030"/>
<text x="483.7" y="565.28" font-size="9.8" font-family="'Liberation Sans', Arial, sans-serif" fill="#2b2b2b" text-anchor="start" textLength="53.3" lengthAdjust="spacingAndGlyphs" stroke="#2b2b2b" stroke-width="0.33">Strontianite</text>
<text x="483.7" y="579.48" font-size="9.8" font-family="'Liberation Sans', Arial, sans-serif" fill="#2b2b2b" text-anchor="start" textLength="54" lengthAdjust="spacingAndGlyphs" stroke="#2b2b2b" stroke-width="0.33">(Sr &lt; 7mg/L)</text>
<path d="M477.9 590.7L480.4 595.7L475.4 595.7Z" fill="#74ad2e"/>
<text x="483.7" y="596.68" font-size="9.8" font-family="'Liberation Sans', Arial, sans-serif" fill="#2b2b2b" text-anchor="start" textLength="38.9" lengthAdjust="spacingAndGlyphs" stroke="#2b2b2b" stroke-width="0.33">Celestite</text>
<text x="483.7" y="610.18" font-size="9.8" font-family="'Liberation Sans', Arial, sans-serif" fill="#2b2b2b" text-anchor="start" textLength="54" lengthAdjust="spacingAndGlyphs" stroke="#2b2b2b" stroke-width="0.33">(Sr &gt; 7mg/L)</text>
<path d="M475.3 622.7L480.5 627.9M480.5 622.7L475.3 627.9" stroke="#3a3a3a" stroke-width="1.1" fill="none"/>
<text x="483.7" y="628.78" font-size="9.8" font-family="'Liberation Sans', Arial, sans-serif" fill="#2b2b2b" text-anchor="start" textLength="38.9" lengthAdjust="spacingAndGlyphs" stroke="#2b2b2b" stroke-width="0.33">Celestite</text>
<text x="483.7" y="642.28" font-size="9.8" font-family="'Liberation Sans', Arial, sans-serif" fill="#2b2b2b" text-anchor="start" textLength="54" lengthAdjust="spacingAndGlyphs" stroke="#2b2b2b" stroke-width="0.33">(Sr &lt; 7mg/L)</text>
<text x="393" y="523.6" font-size="15" font-family="'Liberation Serif', 'Times New Roman', serif" fill="#111" text-anchor="start" textLength="18.8" lengthAdjust="spacingAndGlyphs" stroke="#111" stroke-width="0.25">( h)</text>
<text x="394.5" y="677" font-size="12" font-family="'Liberation Serif', 'Times New Roman', serif" fill="#111" text-anchor="start" font-weight="bold" textLength="53" lengthAdjust="spacingAndGlyphs" stroke="#111" stroke-width="0.25">Sr (mg.L<tspan font-size="7" dy="-4">-1</tspan><tspan dy="4">)</tspan></text>
<text transform="translate(286.2 585.6) rotate(-90)" font-size="12" font-family="'Liberation Serif', 'Times New Roman', serif" font-weight="bold" fill="#111" stroke="#111" stroke-width="0.25" text-anchor="middle" textLength="83.6" lengthAdjust="spacingAndGlyphs">Saturation index</text>
<rect x="19.8" y="680.6" width="254.4" height="153.4" fill="none" stroke="#8a8a8a" stroke-width="1.4"/>
<line x1="41.9" y1="687.3" x2="41.9" y2="810.1" stroke="#8f8f8f" stroke-width="1.1"/>
<line x1="41.9" y1="687.3" x2="45.9" y2="687.3" stroke="#8f8f8f" stroke-width="1"/>
<line x1="41.9" y1="718" x2="45.9" y2="718" stroke="#8f8f8f" stroke-width="1"/>
<line x1="41.9" y1="748.7" x2="45.9" y2="748.7" stroke="#8f8f8f" stroke-width="1"/>
<line x1="41.9" y1="779.4" x2="45.9" y2="779.4" stroke="#8f8f8f" stroke-width="1"/>
<line x1="41.9" y1="810.1" x2="45.9" y2="810.1" stroke="#8f8f8f" stroke-width="1"/>
<line x1="42.8" y1="810.1" x2="260.9" y2="810.1" stroke="#8f8f8f" stroke-width="1.1"/>
<line x1="42.8" y1="810.1" x2="42.8" y2="807.1" stroke="#8f8f8f" stroke-width="1"/>
<line x1="115.5" y1="810.1" x2="115.5" y2="807.1" stroke="#8f8f8f" stroke-width="1"/>
<line x1="188.2" y1="810.1" x2="188.2" y2="807.1" stroke="#8f8f8f" stroke-width="1"/>
<line x1="260.9" y1="810.1" x2="260.9" y2="807.1" stroke="#8f8f8f" stroke-width="1"/>
<text x="33.6" y="690.96" font-size="10.3" font-family="'Liberation Sans', Arial, sans-serif" fill="#2b2b2b" text-anchor="end" stroke="#2b2b2b" stroke-width="0.33">40</text>
<text x="33.6" y="721.66" font-size="10.3" font-family="'Liberation Sans', Arial, sans-serif" fill="#2b2b2b" text-anchor="end" stroke="#2b2b2b" stroke-width="0.33">30</text>
<text x="33.6" y="752.36" font-size="10.3" font-family="'Liberation Sans', Arial, sans-serif" fill="#2b2b2b" text-anchor="end" stroke="#2b2b2b" stroke-width="0.33">20</text>
<text x="33.6" y="783.06" font-size="10.3" font-family="'Liberation Sans', Arial, sans-serif" fill="#2b2b2b" text-anchor="end" stroke="#2b2b2b" stroke-width="0.33">10</text>
<text x="33.6" y="813.76" font-size="10.3" font-family="'Liberation Sans', Arial, sans-serif" fill="#2b2b2b" text-anchor="end" stroke="#2b2b2b" stroke-width="0.33">0</text>
<text x="42.8" y="829.46" font-size="10.3" font-family="'Liberation Sans', Arial, sans-serif" fill="#2b2b2b" text-anchor="middle" stroke="#2b2b2b" stroke-width="0.33">0</text>
<text x="115.5" y="829.46" font-size="10.3" font-family="'Liberation Sans', Arial, sans-serif" fill="#2b2b2b" text-anchor="middle" stroke="#2b2b2b" stroke-width="0.33">10</text>
<text x="188.2" y="829.46" font-size="10.3" font-family="'Liberation Sans', Arial, sans-serif" fill="#2b2b2b" text-anchor="middle" stroke="#2b2b2b" stroke-width="0.33">20</text>
<text x="260.9" y="829.46" font-size="10.3" font-family="'Liberation Sans', Arial, sans-serif" fill="#2b2b2b" text-anchor="middle" stroke="#2b2b2b" stroke-width="0.33">30</text>
<circle cx="114.8" cy="686.8" r="3.8" fill="#fff" stroke="#333" stroke-width="1.25"/>
<circle cx="129" cy="689.2" r="3.8" fill="#fff" stroke="#333" stroke-width="1.25"/>
<circle cx="107.4" cy="711.3" r="3.8" fill="#fff" stroke="#333" stroke-width="1.25"/>
<circle cx="122.2" cy="726.5" r="3.8" fill="#fff" stroke="#333" stroke-width="1.25"/>
<circle cx="114.8" cy="729.7" r="3.8" fill="#fff" stroke="#333" stroke-width="1.25"/>
<circle cx="114.8" cy="758" r="3.8" fill="#fff" stroke="#333" stroke-width="1.25"/>
<circle cx="85.6" cy="772.8" r="3.8" fill="#fff" stroke="#333" stroke-width="1.25"/>
<circle cx="202.3" cy="785" r="3.8" fill="#fff" stroke="#333" stroke-width="1.25"/>
<path d="M122.4 800.6L126.7 809.2L118.1 809.2Z" fill="#1f6fc2"/>
<path d="M122.9 804.1L127.2 812.7L118.6 812.7Z" fill="#1f6fc2"/>
<path d="M129.5 792L133.8 800.6L125.2 800.6Z" fill="#1f6fc2"/>
<path d="M137.1 798.7L141.4 807.3L132.8 807.3Z" fill="#1f6fc2"/>
<path d="M137.1 804.1L141.4 812.7L132.8 812.7Z" fill="#1f6fc2"/>
<path d="M166.2 798.5L170.5 807.1L161.9 807.1Z" fill="#1f6fc2"/>
<path d="M166.2 802.1L170.5 810.7L161.9 810.7Z" fill="#1f6fc2"/>
<path d="M180.7 786.3L185 794.9L176.4 794.9Z" fill="#1f6fc2"/>
<path d="M246.4 802.4L250.7 811L242.1 811Z" fill="#1f6fc2"/>
<circle cx="206.4" cy="700.6" r="2.9" fill="#fff" stroke="#333" stroke-width="1.25"/>
<text x="212.6" y="704.08" font-size="9.8" font-family="'Liberation Sans', Arial, sans-serif" fill="#2b2b2b" text-anchor="start" textLength="43.2" lengthAdjust="spacingAndGlyphs" stroke="#2b2b2b" stroke-width="0.33">Sr&gt;7mg/L</text>
<path d="M206.4 718L209.8 724.2L203 724.2Z" fill="#1f6fc2"/>
<text x="212.6" y="724.58" font-size="9.8" font-family="'Liberation Sans', Arial, sans-serif" fill="#2b2b2b" text-anchor="start" textLength="43.2" lengthAdjust="spacingAndGlyphs" stroke="#2b2b2b" stroke-width="0.33">Sr&lt;7mg/L</text>
<text x="146.2" y="692.6" font-size="15" font-family="'Liberation Serif', 'Times New Roman', serif" fill="#111" text-anchor="start" textLength="14.2" lengthAdjust="spacingAndGlyphs" stroke="#111" stroke-width="0.25">(i)</text>
<text x="109.6" y="849" font-size="12" font-family="'Liberation Serif', 'Times New Roman', serif" fill="#111" text-anchor="start" textLength="89.4" lengthAdjust="spacingAndGlyphs" stroke="#111" stroke-width="0.25">Elevation (m.a.s.l.)</text>
<text transform="translate(16 746.6) rotate(-90)" font-size="12" font-family="'Liberation Serif', 'Times New Roman', serif" font-weight="bold" fill="#111" stroke="#111" stroke-width="0.25" text-anchor="middle" textLength="54.8" lengthAdjust="spacingAndGlyphs">Sr (mg.L<tspan font-size="7" dy="-4">-1</tspan><tspan dy="4">)</tspan></text>
<rect x="289.2" y="682.4" width="254.1" height="152.6" fill="none" stroke="#8a8a8a" stroke-width="1.4"/>
<line x1="312.2" y1="688.5" x2="312.2" y2="812.1" stroke="#8f8f8f" stroke-width="1.1"/>
<line x1="312.2" y1="688.5" x2="316.2" y2="688.5" stroke="#8f8f8f" stroke-width="1"/>
<line x1="312.2" y1="719.4" x2="316.2" y2="719.4" stroke="#8f8f8f" stroke-width="1"/>
<line x1="312.2" y1="750.3" x2="316.2" y2="750.3" stroke="#8f8f8f" stroke-width="1"/>
<line x1="312.2" y1="781.2" x2="316.2" y2="781.2" stroke="#8f8f8f" stroke-width="1"/>
<line x1="312.2" y1="812.1" x2="316.2" y2="812.1" stroke="#8f8f8f" stroke-width="1"/>
<line x1="311.9" y1="811.4" x2="525.02" y2="811.4" stroke="#8f8f8f" stroke-width="1.1"/>
<line x1="311.9" y1="811.4" x2="311.9" y2="808.4" stroke="#8f8f8f" stroke-width="1"/>
<line x1="347.42" y1="811.4" x2="347.42" y2="808.4" stroke="#8f8f8f" stroke-width="1"/>
<line x1="382.94" y1="811.4" x2="382.94" y2="808.4" stroke="#8f8f8f" stroke-width="1"/>
<line x1="418.46" y1="811.4" x2="418.46" y2="808.4" stroke="#8f8f8f" stroke-width="1"/>
<line x1="453.98" y1="811.4" x2="453.98" y2="808.4" stroke="#8f8f8f" stroke-width="1"/>
<line x1="489.5" y1="811.4" x2="489.5" y2="808.4" stroke="#8f8f8f" stroke-width="1"/>
<line x1="525.02" y1="811.4" x2="525.02" y2="808.4" stroke="#8f8f8f" stroke-width="1"/>
<line x1="525" y1="811.4" x2="527.8" y2="811.4" stroke="#8f8f8f" stroke-width="1.1"/>
<text x="303" y="692.16" font-size="10.3" font-family="'Liberation Sans', Arial, sans-serif" fill="#2b2b2b" text-anchor="end" stroke="#2b2b2b" stroke-width="0.33">40</text>
<text x="303" y="723.06" font-size="10.3" font-family="'Liberation Sans', Arial, sans-serif" fill="#2b2b2b" text-anchor="end" stroke="#2b2b2b" stroke-width="0.33">30</text>
<text x="303" y="753.96" font-size="10.3" font-family="'Liberation Sans', Arial, sans-serif" fill="#2b2b2b" text-anchor="end" stroke="#2b2b2b" stroke-width="0.33">20</text>
<text x="303" y="784.86" font-size="10.3" font-family="'Liberation Sans', Arial, sans-serif" fill="#2b2b2b" text-anchor="end" stroke="#2b2b2b" stroke-width="0.33">10</text>
<text x="303" y="815.76" font-size="10.3" font-family="'Liberation Sans', Arial, sans-serif" fill="#2b2b2b" text-anchor="end" stroke="#2b2b2b" stroke-width="0.33">0</text>
<text x="311.9" y="830.66" font-size="10.3" font-family="'Liberation Sans', Arial, sans-serif" fill="#2b2b2b" text-anchor="middle" stroke="#2b2b2b" stroke-width="0.33">-150</text>
<text x="347.42" y="830.66" font-size="10.3" font-family="'Liberation Sans', Arial, sans-serif" fill="#2b2b2b" text-anchor="middle" stroke="#2b2b2b" stroke-width="0.33">-100</text>
<text x="382.94" y="830.66" font-size="10.3" font-family="'Liberation Sans', Arial, sans-serif" fill="#2b2b2b" text-anchor="middle" stroke="#2b2b2b" stroke-width="0.33">-50</text>
<text x="418.46" y="830.66" font-size="10.3" font-family="'Liberation Sans', Arial, sans-serif" fill="#2b2b2b" text-anchor="middle" stroke="#2b2b2b" stroke-width="0.33">0</text>
<text x="453.98" y="830.66" font-size="10.3" font-family="'Liberation Sans', Arial, sans-serif" fill="#2b2b2b" text-anchor="middle" stroke="#2b2b2b" stroke-width="0.33">50</text>
<text x="489.5" y="830.66" font-size="10.3" font-family="'Liberation Sans', Arial, sans-serif" fill="#2b2b2b" text-anchor="middle" stroke="#2b2b2b" stroke-width="0.33">100</text>
<text x="525.02" y="830.66" font-size="10.3" font-family="'Liberation Sans', Arial, sans-serif" fill="#2b2b2b" text-anchor="middle" stroke="#2b2b2b" stroke-width="0.33">150</text>
<circle cx="388.7" cy="688.7" r="3.8" fill="#fff" stroke="#333" stroke-width="1.25"/>
<circle cx="405.5" cy="691" r="3.8" fill="#fff" stroke="#333" stroke-width="1.25"/>
<circle cx="341.4" cy="713" r="3.8" fill="#fff" stroke="#333" stroke-width="1.25"/>
<circle cx="336" cy="728.3" r="3.8" fill="#fff" stroke="#333" stroke-width="1.25"/>
<circle cx="332.3" cy="759.7" r="3.8" fill="#fff" stroke="#333" stroke-width="1.25"/>
<circle cx="423.3" cy="731.3" r="3.8" fill="#fff" stroke="#333" stroke-width="1.25"/>
<circle cx="524" cy="774.1" r="3.8" fill="#fff" stroke="#333" stroke-width="1.25"/>
<circle cx="527.6" cy="786" r="3.8" fill="#fff" stroke="#333" stroke-width="1.25"/>
<path d="M345.8 803.6L350.1 812.2L341.5 812.2Z" fill="#1f6fc2"/>
<path d="M363.5 793.7L367.8 802.3L359.2 802.3Z" fill="#1f6fc2"/>
<path d="M377.7 787.6L382 796.2L373.4 796.2Z" fill="#1f6fc2"/>
<path d="M375.7 802.3L380 810.9L371.4 810.9Z" fill="#1f6fc2"/>
<path d="M412.8 800.4L417.1 809L408.5 809Z" fill="#1f6fc2"/>
<path d="M445.1 799L449.4 807.6L440.8 807.6Z" fill="#1f6fc2"/>
<path d="M458.9 804.1L463.2 812.7L454.6 812.7Z" fill="#1f6fc2"/>
<path d="M464.7 804.9L469 813.5L460.4 813.5Z" fill="#1f6fc2"/>
<path d="M470.3 804.9L474.6 813.5L466 813.5Z" fill="#1f6fc2"/>
<line x1="418" y1="685.8" x2="418" y2="811" stroke="#f06a6a" stroke-width="1.3"/>
<circle cx="469.1" cy="702.6" r="2.9" fill="#fff" stroke="#333" stroke-width="1.25"/>
<text x="475.3" y="706.38" font-size="9.8" font-family="'Liberation Sans', Arial, sans-serif" fill="#2b2b2b" text-anchor="start" textLength="51" lengthAdjust="spacingAndGlyphs" stroke="#2b2b2b" stroke-width="0.33">Sr &gt; 7 mg/L</text>
<path d="M469.1 719.8L472.5 726L465.7 726Z" fill="#1f6fc2"/>
<text x="475.3" y="726.68" font-size="9.8" font-family="'Liberation Sans', Arial, sans-serif" fill="#2b2b2b" text-anchor="start" textLength="51" lengthAdjust="spacingAndGlyphs" stroke="#2b2b2b" stroke-width="0.33">Sr &lt; 7 mg/L</text>
<text x="406.4" y="694.5" font-size="15" font-family="'Liberation Serif', 'Times New Roman', serif" fill="#111" text-anchor="start" textLength="15" lengthAdjust="spacingAndGlyphs" stroke="#111" stroke-width="0.25">(j)</text>
<text x="392.6" y="849.4" font-size="12" font-family="'Liberation Serif', 'Times New Roman', serif" fill="#111" text-anchor="start" font-weight="bold" textLength="43.1" lengthAdjust="spacingAndGlyphs" stroke="#111" stroke-width="0.25">Eh (mV)</text>
<text transform="translate(285.8 748.15) rotate(-90)" font-size="12" font-family="'Liberation Serif', 'Times New Roman', serif" font-weight="bold" fill="#111" stroke="#111" stroke-width="0.25" text-anchor="middle" textLength="55.7" lengthAdjust="spacingAndGlyphs">Sr (mg.L<tspan font-size="7" dy="-4">-1</tspan><tspan dy="4">)</tspan></text>
</svg></body></html>
